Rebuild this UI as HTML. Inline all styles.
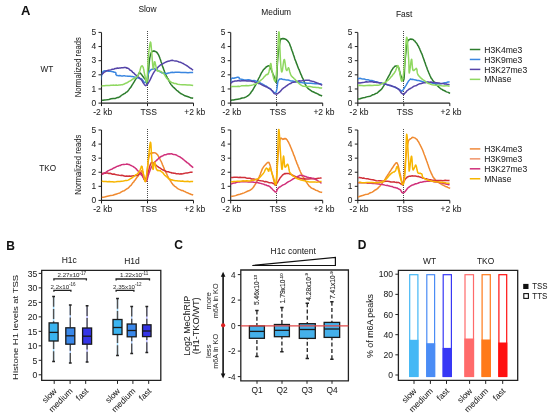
<!DOCTYPE html>
<html><head><meta charset="utf-8"><style>
html,body{margin:0;padding:0;background:#fff;width:550px;height:418px;overflow:hidden}
svg{display:block;filter:blur(0.3px)}
text{font-family:"Liberation Sans",sans-serif;stroke:#2a2a2a;stroke-width:0.04px}
</style></head><body>
<svg width="550" height="418" viewBox="0 0 550 418" font-family="Liberation Sans, sans-serif">
<rect width="550" height="418" fill="#fff"/>
<text x="21.00" y="14.70" font-size="13" text-anchor="start" font-weight="bold" fill="#111" >A</text>
<text x="147.50" y="12.30" font-size="8.4" text-anchor="middle" font-weight="normal" fill="#222" >Slow</text>
<text x="276.20" y="14.50" font-size="8.4" text-anchor="middle" font-weight="normal" fill="#222" >Medium</text>
<text x="404.10" y="16.80" font-size="8.4" text-anchor="middle" font-weight="normal" fill="#222" >Fast</text>
<clipPath id="c00"><rect x="101.5" y="31.2" width="93" height="71.89999999999999"/></clipPath>
<path d="M101.5,32.4 V103.1 H193.5" fill="none" stroke="#222" stroke-width="1.1"/>
<path d="M98.5,103.10 H101.5" stroke="#222" stroke-width="1"/>
<text x="96.20" y="105.70" font-size="8.4" text-anchor="end" font-weight="normal" fill="#222" >0</text>
<path d="M98.5,88.96 H101.5" stroke="#222" stroke-width="1"/>
<text x="96.20" y="91.56" font-size="8.4" text-anchor="end" font-weight="normal" fill="#222" >1</text>
<path d="M98.5,74.82 H101.5" stroke="#222" stroke-width="1"/>
<text x="96.20" y="77.42" font-size="8.4" text-anchor="end" font-weight="normal" fill="#222" >2</text>
<path d="M98.5,60.68 H101.5" stroke="#222" stroke-width="1"/>
<text x="96.20" y="63.28" font-size="8.4" text-anchor="end" font-weight="normal" fill="#222" >3</text>
<path d="M98.5,46.54 H101.5" stroke="#222" stroke-width="1"/>
<text x="96.20" y="49.14" font-size="8.4" text-anchor="end" font-weight="normal" fill="#222" >4</text>
<path d="M98.5,32.40 H101.5" stroke="#222" stroke-width="1"/>
<text x="96.20" y="35.00" font-size="8.4" text-anchor="end" font-weight="normal" fill="#222" >5</text>
<path d="M101.50,103.1 V106.1" stroke="#222" stroke-width="1"/>
<text x="102.70" y="114.50" font-size="8.5" text-anchor="middle" font-weight="normal" fill="#222" >-2 kb</text>
<path d="M147.50,103.1 V106.1" stroke="#222" stroke-width="1"/>
<text x="148.70" y="114.50" font-size="8.5" text-anchor="middle" font-weight="normal" fill="#222" >TSS</text>
<path d="M193.50,103.1 V106.1" stroke="#222" stroke-width="1"/>
<text x="194.70" y="114.50" font-size="8.5" text-anchor="middle" font-weight="normal" fill="#222" >+2 kb</text>
<path d="M147.5,31 V103.1" stroke="#4a4a4a" stroke-width="1" stroke-dasharray="1,1"/>
<text transform="translate(80.8,67.25) rotate(-90)" x="0" y="0" font-size="8.8" text-anchor="middle" fill="#222" textLength="60" lengthAdjust="spacingAndGlyphs">Normalized reads</text>
<clipPath id="c01"><rect x="230.7" y="31.2" width="93" height="71.89999999999999"/></clipPath>
<path d="M230.7,32.4 V103.1 H322.7" fill="none" stroke="#222" stroke-width="1.1"/>
<path d="M227.7,103.10 H230.7" stroke="#222" stroke-width="1"/>
<text x="225.40" y="105.70" font-size="8.4" text-anchor="end" font-weight="normal" fill="#222" >0</text>
<path d="M227.7,88.96 H230.7" stroke="#222" stroke-width="1"/>
<text x="225.40" y="91.56" font-size="8.4" text-anchor="end" font-weight="normal" fill="#222" >1</text>
<path d="M227.7,74.82 H230.7" stroke="#222" stroke-width="1"/>
<text x="225.40" y="77.42" font-size="8.4" text-anchor="end" font-weight="normal" fill="#222" >2</text>
<path d="M227.7,60.68 H230.7" stroke="#222" stroke-width="1"/>
<text x="225.40" y="63.28" font-size="8.4" text-anchor="end" font-weight="normal" fill="#222" >3</text>
<path d="M227.7,46.54 H230.7" stroke="#222" stroke-width="1"/>
<text x="225.40" y="49.14" font-size="8.4" text-anchor="end" font-weight="normal" fill="#222" >4</text>
<path d="M227.7,32.40 H230.7" stroke="#222" stroke-width="1"/>
<text x="225.40" y="35.00" font-size="8.4" text-anchor="end" font-weight="normal" fill="#222" >5</text>
<path d="M230.70,103.1 V106.1" stroke="#222" stroke-width="1"/>
<text x="231.90" y="114.50" font-size="8.5" text-anchor="middle" font-weight="normal" fill="#222" >-2 kb</text>
<path d="M276.70,103.1 V106.1" stroke="#222" stroke-width="1"/>
<text x="277.90" y="114.50" font-size="8.5" text-anchor="middle" font-weight="normal" fill="#222" >TSS</text>
<path d="M322.70,103.1 V106.1" stroke="#222" stroke-width="1"/>
<text x="323.90" y="114.50" font-size="8.5" text-anchor="middle" font-weight="normal" fill="#222" >+2 kb</text>
<path d="M276.5,31 V103.1" stroke="#4a4a4a" stroke-width="1" stroke-dasharray="1,1"/>
<clipPath id="c02"><rect x="357.8" y="31.2" width="93" height="71.89999999999999"/></clipPath>
<path d="M357.8,32.4 V103.1 H449.8" fill="none" stroke="#222" stroke-width="1.1"/>
<path d="M354.8,103.10 H357.8" stroke="#222" stroke-width="1"/>
<text x="352.50" y="105.70" font-size="8.4" text-anchor="end" font-weight="normal" fill="#222" >0</text>
<path d="M354.8,88.96 H357.8" stroke="#222" stroke-width="1"/>
<text x="352.50" y="91.56" font-size="8.4" text-anchor="end" font-weight="normal" fill="#222" >1</text>
<path d="M354.8,74.82 H357.8" stroke="#222" stroke-width="1"/>
<text x="352.50" y="77.42" font-size="8.4" text-anchor="end" font-weight="normal" fill="#222" >2</text>
<path d="M354.8,60.68 H357.8" stroke="#222" stroke-width="1"/>
<text x="352.50" y="63.28" font-size="8.4" text-anchor="end" font-weight="normal" fill="#222" >3</text>
<path d="M354.8,46.54 H357.8" stroke="#222" stroke-width="1"/>
<text x="352.50" y="49.14" font-size="8.4" text-anchor="end" font-weight="normal" fill="#222" >4</text>
<path d="M354.8,32.40 H357.8" stroke="#222" stroke-width="1"/>
<text x="352.50" y="35.00" font-size="8.4" text-anchor="end" font-weight="normal" fill="#222" >5</text>
<path d="M357.80,103.1 V106.1" stroke="#222" stroke-width="1"/>
<text x="359.00" y="114.50" font-size="8.5" text-anchor="middle" font-weight="normal" fill="#222" >-2 kb</text>
<path d="M403.80,103.1 V106.1" stroke="#222" stroke-width="1"/>
<text x="405.00" y="114.50" font-size="8.5" text-anchor="middle" font-weight="normal" fill="#222" >TSS</text>
<path d="M449.80,103.1 V106.1" stroke="#222" stroke-width="1"/>
<text x="451.00" y="114.50" font-size="8.5" text-anchor="middle" font-weight="normal" fill="#222" >+2 kb</text>
<path d="M403.5,31 V103.1" stroke="#4a4a4a" stroke-width="1" stroke-dasharray="1,1"/>
<clipPath id="c10"><rect x="101.5" y="128.8" width="93" height="71.60000000000001"/></clipPath>
<path d="M101.5,130.0 V200.4 H193.5" fill="none" stroke="#222" stroke-width="1.1"/>
<path d="M98.5,200.40 H101.5" stroke="#222" stroke-width="1"/>
<text x="96.20" y="203.00" font-size="8.4" text-anchor="end" font-weight="normal" fill="#222" >0</text>
<path d="M98.5,186.32 H101.5" stroke="#222" stroke-width="1"/>
<text x="96.20" y="188.92" font-size="8.4" text-anchor="end" font-weight="normal" fill="#222" >1</text>
<path d="M98.5,172.24 H101.5" stroke="#222" stroke-width="1"/>
<text x="96.20" y="174.84" font-size="8.4" text-anchor="end" font-weight="normal" fill="#222" >2</text>
<path d="M98.5,158.16 H101.5" stroke="#222" stroke-width="1"/>
<text x="96.20" y="160.76" font-size="8.4" text-anchor="end" font-weight="normal" fill="#222" >3</text>
<path d="M98.5,144.08 H101.5" stroke="#222" stroke-width="1"/>
<text x="96.20" y="146.68" font-size="8.4" text-anchor="end" font-weight="normal" fill="#222" >4</text>
<path d="M98.5,130.00 H101.5" stroke="#222" stroke-width="1"/>
<text x="96.20" y="132.60" font-size="8.4" text-anchor="end" font-weight="normal" fill="#222" >5</text>
<path d="M101.50,200.4 V203.4" stroke="#222" stroke-width="1"/>
<text x="102.70" y="211.80" font-size="8.5" text-anchor="middle" font-weight="normal" fill="#222" >-2 kb</text>
<path d="M147.50,200.4 V203.4" stroke="#222" stroke-width="1"/>
<text x="148.70" y="211.80" font-size="8.5" text-anchor="middle" font-weight="normal" fill="#222" >TSS</text>
<path d="M193.50,200.4 V203.4" stroke="#222" stroke-width="1"/>
<text x="194.70" y="211.80" font-size="8.5" text-anchor="middle" font-weight="normal" fill="#222" >+2 kb</text>
<path d="M147.5,129 V200.4" stroke="#4a4a4a" stroke-width="1" stroke-dasharray="1,1"/>
<text transform="translate(80.8,164.70) rotate(-90)" x="0" y="0" font-size="8.8" text-anchor="middle" fill="#222" textLength="60" lengthAdjust="spacingAndGlyphs">Normalized reads</text>
<clipPath id="c11"><rect x="230.7" y="128.8" width="93" height="71.60000000000001"/></clipPath>
<path d="M230.7,130.0 V200.4 H322.7" fill="none" stroke="#222" stroke-width="1.1"/>
<path d="M227.7,200.40 H230.7" stroke="#222" stroke-width="1"/>
<text x="225.40" y="203.00" font-size="8.4" text-anchor="end" font-weight="normal" fill="#222" >0</text>
<path d="M227.7,186.32 H230.7" stroke="#222" stroke-width="1"/>
<text x="225.40" y="188.92" font-size="8.4" text-anchor="end" font-weight="normal" fill="#222" >1</text>
<path d="M227.7,172.24 H230.7" stroke="#222" stroke-width="1"/>
<text x="225.40" y="174.84" font-size="8.4" text-anchor="end" font-weight="normal" fill="#222" >2</text>
<path d="M227.7,158.16 H230.7" stroke="#222" stroke-width="1"/>
<text x="225.40" y="160.76" font-size="8.4" text-anchor="end" font-weight="normal" fill="#222" >3</text>
<path d="M227.7,144.08 H230.7" stroke="#222" stroke-width="1"/>
<text x="225.40" y="146.68" font-size="8.4" text-anchor="end" font-weight="normal" fill="#222" >4</text>
<path d="M227.7,130.00 H230.7" stroke="#222" stroke-width="1"/>
<text x="225.40" y="132.60" font-size="8.4" text-anchor="end" font-weight="normal" fill="#222" >5</text>
<path d="M230.70,200.4 V203.4" stroke="#222" stroke-width="1"/>
<text x="231.90" y="211.80" font-size="8.5" text-anchor="middle" font-weight="normal" fill="#222" >-2 kb</text>
<path d="M276.70,200.4 V203.4" stroke="#222" stroke-width="1"/>
<text x="277.90" y="211.80" font-size="8.5" text-anchor="middle" font-weight="normal" fill="#222" >TSS</text>
<path d="M322.70,200.4 V203.4" stroke="#222" stroke-width="1"/>
<text x="323.90" y="211.80" font-size="8.5" text-anchor="middle" font-weight="normal" fill="#222" >+2 kb</text>
<path d="M276.5,129 V200.4" stroke="#4a4a4a" stroke-width="1" stroke-dasharray="1,1"/>
<clipPath id="c12"><rect x="357.8" y="128.8" width="93" height="71.60000000000001"/></clipPath>
<path d="M357.8,130.0 V200.4 H449.8" fill="none" stroke="#222" stroke-width="1.1"/>
<path d="M354.8,200.40 H357.8" stroke="#222" stroke-width="1"/>
<text x="352.50" y="203.00" font-size="8.4" text-anchor="end" font-weight="normal" fill="#222" >0</text>
<path d="M354.8,186.32 H357.8" stroke="#222" stroke-width="1"/>
<text x="352.50" y="188.92" font-size="8.4" text-anchor="end" font-weight="normal" fill="#222" >1</text>
<path d="M354.8,172.24 H357.8" stroke="#222" stroke-width="1"/>
<text x="352.50" y="174.84" font-size="8.4" text-anchor="end" font-weight="normal" fill="#222" >2</text>
<path d="M354.8,158.16 H357.8" stroke="#222" stroke-width="1"/>
<text x="352.50" y="160.76" font-size="8.4" text-anchor="end" font-weight="normal" fill="#222" >3</text>
<path d="M354.8,144.08 H357.8" stroke="#222" stroke-width="1"/>
<text x="352.50" y="146.68" font-size="8.4" text-anchor="end" font-weight="normal" fill="#222" >4</text>
<path d="M354.8,130.00 H357.8" stroke="#222" stroke-width="1"/>
<text x="352.50" y="132.60" font-size="8.4" text-anchor="end" font-weight="normal" fill="#222" >5</text>
<path d="M357.80,200.4 V203.4" stroke="#222" stroke-width="1"/>
<text x="359.00" y="211.80" font-size="8.5" text-anchor="middle" font-weight="normal" fill="#222" >-2 kb</text>
<path d="M403.80,200.4 V203.4" stroke="#222" stroke-width="1"/>
<text x="405.00" y="211.80" font-size="8.5" text-anchor="middle" font-weight="normal" fill="#222" >TSS</text>
<path d="M449.80,200.4 V203.4" stroke="#222" stroke-width="1"/>
<text x="451.00" y="211.80" font-size="8.5" text-anchor="middle" font-weight="normal" fill="#222" >+2 kb</text>
<path d="M403.5,129 V200.4" stroke="#4a4a4a" stroke-width="1" stroke-dasharray="1,1"/>
<text x="40.50" y="71.90" font-size="8.2" text-anchor="start" font-weight="normal" fill="#222" >WT</text>
<text x="39.30" y="170.50" font-size="8.2" text-anchor="start" font-weight="normal" fill="#222" >TKO</text>
<path d="M101.73,100.26 L102.95,100.23 L104.63,99.90 L106.65,99.74 L108.84,99.44 L111.09,98.82 L113.23,98.43 L115.14,98.49 L116.66,97.84 L117.80,97.48 L118.69,97.51 L119.40,96.89 L119.98,96.70 L120.50,96.12 L121.01,95.79 L121.57,95.10 L122.25,94.86 L123.02,94.50 L123.79,93.89 L124.57,93.56 L125.37,93.05 L126.18,92.19 L127.02,91.87 L127.89,90.98 L128.78,89.84 L129.75,88.44 L130.81,87.31 L131.91,85.37 L133.03,83.67 L134.11,81.93 L135.13,80.13 L136.04,78.70 L136.81,77.20 L137.40,76.42 L137.87,75.39 L138.23,74.93 L138.52,74.32 L138.77,73.47 L139.01,73.15 L139.28,72.95 L139.60,73.20 L139.97,72.95 L140.34,73.25 L140.72,73.43 L141.10,73.97 L141.48,74.41 L141.85,74.92 L142.22,75.54 L142.59,75.99 L142.95,76.57 L143.32,76.91 L143.69,77.49 L144.05,77.92 L144.40,78.45 L144.75,78.74 L145.08,78.92 L145.39,79.67 L145.68,80.27 L145.95,81.02 L146.20,81.71 L146.45,82.58 L146.69,82.92 L146.93,83.46 L147.18,83.06 L147.44,82.00 L147.71,80.10 L147.98,77.90 L148.26,74.80 L148.54,70.86 L148.82,67.64 L149.10,64.05 L149.39,60.93 L149.68,58.68 L149.96,57.19 L150.24,55.84 L150.52,54.32 L150.80,53.72 L151.09,52.74 L151.40,52.52 L151.74,51.86 L152.10,51.70 L152.52,51.42 L152.98,51.03 L153.48,51.27 L153.99,51.03 L154.50,51.08 L154.99,51.55 L155.44,51.48 L155.84,51.73 L156.17,51.97 L156.46,52.22 L156.72,52.16 L156.96,52.29 L157.18,52.93 L157.40,52.93 L157.63,53.58 L157.89,53.94 L158.16,54.14 L158.42,54.68 L158.69,55.26 L158.96,55.92 L159.24,56.54 L159.52,57.23 L159.82,58.02 L160.13,59.00 L160.45,59.70 L160.79,60.68 L161.14,61.92 L161.49,62.82 L161.85,64.00 L162.21,65.48 L162.57,66.35 L162.93,67.39 L163.27,68.09 L163.62,69.23 L163.97,70.23 L164.31,70.85 L164.66,72.02 L165.01,72.88 L165.37,73.42 L165.72,74.52 L166.08,75.22 L166.44,76.08 L166.81,76.65 L167.17,77.53 L167.54,78.25 L167.92,78.58 L168.31,79.31 L168.71,80.33 L169.08,81.18 L169.41,81.50 L169.73,82.28 L170.06,83.03 L170.45,83.59 L170.92,84.34 L171.51,85.09 L172.25,85.96 L173.16,87.01 L174.21,87.90 L175.38,89.03 L176.63,90.36 L177.94,91.10 L179.28,92.43 L180.63,93.49 L181.96,94.14 L183.36,94.85 L184.91,95.83 L186.54,96.19 L188.16,96.73 L189.71,97.37 L191.10,97.94 L192.28,98.02 L193.15,98.43" fill="none" stroke="#2d7d2d" stroke-width="1.5" stroke-linejoin="round" clip-path="url(#c00)"/>
<path d="M100.80,80.16 L100.90,79.81 L101.04,78.78 L101.19,77.99 L101.37,76.56 L101.57,75.55 L101.79,74.66 L102.03,73.86 L102.29,72.94 L102.53,72.29 L102.73,71.81 L102.93,71.67 L103.15,71.23 L103.45,71.34 L103.85,71.22 L104.38,70.80 L105.09,70.80 L106.06,71.07 L107.30,71.07 L108.71,71.31 L110.21,71.28 L111.70,71.41 L113.08,71.75 L114.27,72.28 L115.16,72.29 L115.70,72.63 L115.94,73.02 L115.98,73.41 L115.91,73.80 L115.85,74.46 L115.88,74.44 L116.12,74.69 L116.66,75.42 L117.52,75.58 L118.61,75.76 L119.87,75.57 L121.25,75.89 L122.69,75.93 L124.12,75.63 L125.48,75.96 L126.73,76.12 L127.89,76.16 L129.05,76.24 L130.18,76.28 L131.29,76.47 L132.37,76.59 L133.40,76.69 L134.38,77.12 L135.31,77.15 L136.18,77.57 L136.99,77.34 L137.75,77.91 L138.47,77.96 L139.16,78.24 L139.82,78.42 L140.46,78.66 L141.10,78.78 L141.71,78.94 L142.28,79.94 L142.83,80.38 L143.36,81.18 L143.87,81.99 L144.38,82.37 L144.88,82.47 L145.39,82.51 L145.89,81.64 L146.37,80.37 L146.84,78.87 L147.30,77.55 L147.77,75.68 L148.26,74.24 L148.77,72.63 L149.31,71.51 L149.87,70.90 L150.44,70.41 L151.02,69.58 L151.63,69.51 L152.25,69.30 L152.91,69.07 L153.61,69.00 L154.34,68.61 L155.15,69.10 L156.02,69.58 L156.94,69.68 L157.89,70.38 L158.83,70.99 L159.76,71.71 L160.63,72.17 L161.43,72.58 L162.17,72.99 L162.86,72.81 L163.51,73.00 L164.14,73.16 L164.74,73.24 L165.32,73.27 L165.90,73.75 L166.47,73.70 L167.01,73.28 L167.50,73.40 L167.95,73.18 L168.41,73.03 L168.87,72.89 L169.37,72.89 L169.93,72.73 L170.57,72.52 L171.24,72.37 L171.90,72.40 L172.57,72.26 L173.30,72.45 L174.12,72.52 L175.07,72.35 L176.18,72.19 L177.48,72.24 L179.12,72.35 L181.15,72.48 L183.40,72.60 L185.74,72.42 L188.03,72.67 L190.13,72.61 L191.88,72.54 L193.15,72.53" fill="none" stroke="#3a86e0" stroke-width="1.5" stroke-linejoin="round" clip-path="url(#c00)"/>
<path d="M101.73,74.45 L102.08,74.27 L102.52,73.75 L103.03,73.43 L103.62,72.80 L104.28,72.17 L104.99,71.81 L105.76,71.41 L106.58,70.70 L107.48,70.52 L108.48,70.20 L109.55,70.12 L110.67,69.86 L111.82,69.31 L112.97,69.32 L114.09,69.03 L115.16,68.55 L116.21,68.44 L117.28,68.07 L118.34,68.23 L119.40,67.98 L120.42,67.95 L121.40,67.79 L122.33,67.66 L123.19,67.67 L123.95,67.59 L124.61,67.37 L125.20,67.65 L125.76,67.43 L126.32,67.63 L126.89,68.15 L127.52,68.07 L128.22,68.47 L129.02,68.98 L129.88,70.00 L130.79,70.37 L131.72,71.08 L132.66,72.31 L133.58,72.76 L134.48,73.91 L135.31,74.54 L136.10,75.28 L136.86,75.98 L137.59,76.41 L138.31,77.12 L139.01,77.35 L139.71,78.33 L140.40,78.84 L141.10,79.60 L141.77,80.12 L142.42,81.47 L143.05,82.68 L143.67,83.33 L144.32,84.41 L144.99,85.21 L145.72,85.64 L146.51,85.15 L147.38,84.30 L148.31,82.96 L149.30,81.37 L150.32,79.41 L151.35,77.10 L152.38,75.00 L153.38,73.14 L154.34,71.58 L155.24,70.38 L156.08,69.10 L156.89,68.32 L157.70,67.65 L158.53,66.54 L159.42,65.94 L160.37,64.92 L161.43,64.48 L162.61,63.81 L163.88,63.09 L165.22,62.36 L166.61,61.76 L168.03,61.34 L169.46,61.06 L170.88,60.41 L172.25,60.26 L173.61,60.62 L174.98,60.89 L176.34,60.99 L177.71,61.37 L179.07,62.00 L180.42,62.28 L181.76,62.91 L183.07,63.48 L184.44,64.38 L185.88,65.09 L187.35,65.99 L188.79,67.19 L190.14,68.27 L191.36,68.81 L192.38,69.74 L193.15,70.12" fill="none" stroke="#5544a8" stroke-width="1.5" stroke-linejoin="round" clip-path="url(#c00)"/>
<path d="M100.80,86.20 L101.70,86.01 L102.91,85.77 L104.35,85.66 L105.95,85.46 L107.63,85.58 L109.31,85.42 L110.91,85.21 L112.37,85.21 L113.71,85.12 L115.02,85.31 L116.32,84.97 L117.59,85.37 L118.84,85.06 L120.06,85.02 L121.26,84.78 L122.44,84.70 L123.59,84.33 L124.73,83.75 L125.83,83.20 L126.92,82.76 L127.98,82.24 L129.02,81.40 L130.03,80.95 L131.02,80.47 L132.01,79.65 L133.00,78.98 L133.97,78.43 L134.92,78.10 L135.82,77.47 L136.66,76.96 L137.43,76.18 L138.11,75.07 L138.69,74.08 L139.17,72.97 L139.57,71.68 L139.92,70.65 L140.23,69.49 L140.51,68.39 L140.80,67.15 L141.10,66.80 L141.40,66.13 L141.69,65.96 L141.96,66.05 L142.22,65.81 L142.46,66.01 L142.70,66.68 L142.93,66.80 L143.15,67.29 L143.36,67.99 L143.54,68.78 L143.72,69.30 L143.88,70.42 L144.05,71.47 L144.23,72.51 L144.42,73.37 L144.64,74.50 L144.89,75.79 L145.17,76.91 L145.47,78.52 L145.77,79.78 L146.08,81.10 L146.37,82.12 L146.64,82.07 L146.88,81.92 L147.08,80.47 L147.25,77.77 L147.40,75.28 L147.53,71.69 L147.67,68.39 L147.82,64.91 L147.99,61.45 L148.19,58.87 L148.43,56.29 L148.70,53.70 L149.00,50.77 L149.31,48.50 L149.61,46.35 L149.91,44.34 L150.18,42.92 L150.43,41.99 L150.63,42.18 L150.81,42.77 L150.98,44.12 L151.13,45.66 L151.27,47.41 L151.41,49.15 L151.57,51.30 L151.73,53.07 L151.91,54.72 L152.09,57.31 L152.28,59.60 L152.47,61.77 L152.66,64.46 L152.85,66.06 L153.04,67.68 L153.22,68.78 L153.41,68.82 L153.58,68.16 L153.76,67.07 L153.94,65.55 L154.12,64.00 L154.30,62.62 L154.50,61.66 L154.72,61.69 L154.95,62.09 L155.19,62.83 L155.45,64.12 L155.72,65.31 L155.99,66.71 L156.26,68.14 L156.52,69.55 L156.77,69.94 L156.99,70.63 L157.19,70.74 L157.38,71.10 L157.56,70.87 L157.77,70.80 L158.00,70.77 L158.29,70.83 L158.63,71.05 L159.04,71.00 L159.50,71.38 L160.00,71.16 L160.53,71.41 L161.10,71.55 L161.69,71.86 L162.30,72.59 L162.93,73.08 L163.57,73.49 L164.24,74.35 L164.93,75.43 L165.64,76.63 L166.38,77.71 L167.14,78.68 L167.91,79.52 L168.71,80.06 L169.46,80.82 L170.15,81.28 L170.82,81.95 L171.53,82.41 L172.33,82.62 L173.27,83.00 L174.41,83.61 L175.80,83.55 L177.59,84.23 L179.82,84.53 L182.32,84.78 L184.92,84.69 L187.46,84.94 L189.79,85.10 L191.74,85.24 L193.15,85.51" fill="none" stroke="#8fd860" stroke-width="1.5" stroke-linejoin="round" clip-path="url(#c00)"/>
<path d="M230.73,100.48 L231.94,100.05 L233.60,100.05 L235.58,99.53 L237.75,99.20 L239.98,98.82 L242.13,97.96 L244.06,97.79 L245.66,97.11 L246.91,96.39 L247.94,95.76 L248.82,95.06 L249.59,94.18 L250.31,93.50 L251.04,92.26 L251.83,91.33 L252.75,90.01 L253.79,88.19 L254.93,86.16 L256.11,84.03 L257.31,81.55 L258.48,78.75 L259.60,76.78 L260.62,74.67 L261.51,72.74 L262.27,71.62 L262.92,70.53 L263.48,69.64 L263.99,69.22 L264.45,68.88 L264.89,68.12 L265.34,67.98 L265.81,67.46 L266.29,66.76 L266.78,66.75 L267.26,66.30 L267.72,66.21 L268.16,65.94 L268.59,65.86 L268.98,65.68 L269.35,66.03 L269.67,66.33 L269.95,66.65 L270.19,66.90 L270.41,67.61 L270.63,68.09 L270.86,68.56 L271.11,69.23 L271.40,69.95 L271.74,70.79 L272.11,71.64 L272.50,72.75 L272.90,73.82 L273.30,74.71 L273.69,75.59 L274.05,76.57 L274.39,77.16 L274.69,78.07 L274.98,79.24 L275.26,80.13 L275.52,81.00 L275.77,82.10 L276.00,82.39 L276.23,82.08 L276.44,81.29 L276.63,79.79 L276.79,77.52 L276.94,74.50 L277.07,71.19 L277.21,67.92 L277.36,64.85 L277.53,61.38 L277.75,58.76 L278.00,56.08 L278.29,53.50 L278.60,50.94 L278.92,48.60 L279.25,46.19 L279.58,44.05 L279.89,42.31 L280.17,40.89 L280.42,40.02 L280.65,39.13 L280.85,38.73 L281.06,38.78 L281.27,38.74 L281.49,38.94 L281.75,38.65 L282.04,38.77 L282.37,38.67 L282.73,38.44 L283.12,38.90 L283.53,38.55 L283.95,38.56 L284.37,38.86 L284.79,38.85 L285.21,39.26 L285.62,39.32 L286.05,39.44 L286.48,39.67 L286.91,40.31 L287.34,40.44 L287.76,41.10 L288.17,41.42 L288.57,42.21 L288.94,42.53 L289.30,43.23 L289.65,44.03 L290.00,45.15 L290.33,45.95 L290.67,46.73 L291.02,47.55 L291.37,48.80 L291.71,49.91 L292.05,50.70 L292.38,51.42 L292.71,52.47 L293.06,53.58 L293.43,54.74 L293.82,55.84 L294.26,57.07 L294.73,58.67 L295.25,60.17 L295.80,61.26 L296.36,63.12 L296.94,64.37 L297.52,66.00 L298.09,67.50 L298.64,68.89 L299.17,69.76 L299.69,71.18 L300.20,72.60 L300.71,74.01 L301.23,74.82 L301.77,76.15 L302.33,77.67 L302.93,78.55 L303.52,79.97 L304.05,81.25 L304.58,82.74 L305.15,84.17 L305.79,85.09 L306.54,86.62 L307.44,87.81 L308.53,88.99 L309.94,89.94 L311.69,91.22 L313.65,92.01 L315.69,93.05 L317.69,93.89 L319.51,94.99 L321.04,95.55 L322.15,95.98" fill="none" stroke="#2d7d2d" stroke-width="1.5" stroke-linejoin="round" clip-path="url(#c01)"/>
<path d="M230.73,82.87 L230.76,82.79 L230.78,82.24 L230.80,81.69 L230.83,80.88 L230.89,80.28 L230.97,79.50 L231.11,79.25 L231.29,78.51 L231.53,78.47 L231.82,78.44 L232.14,78.29 L232.50,77.94 L232.89,77.98 L233.31,78.26 L233.74,78.13 L234.18,78.19 L234.66,78.09 L235.19,77.76 L235.75,77.86 L236.33,77.66 L236.91,77.37 L237.47,77.33 L237.99,77.17 L238.47,77.39 L238.82,77.80 L239.03,77.59 L239.16,78.08 L239.29,78.14 L239.50,78.44 L239.87,79.03 L240.46,79.12 L241.37,79.27 L242.65,79.51 L244.29,79.91 L246.17,80.01 L248.19,79.85 L250.26,80.11 L252.28,80.66 L254.13,80.53 L255.73,81.02 L257.10,81.35 L258.35,82.02 L259.50,82.47 L260.56,83.15 L261.55,83.62 L262.50,84.03 L263.41,84.60 L264.31,85.07 L265.17,85.92 L265.96,86.02 L266.69,86.42 L267.38,87.33 L268.05,87.37 L268.72,88.15 L269.39,88.18 L270.10,88.80 L270.84,89.23 L271.62,90.24 L272.41,90.90 L273.19,91.64 L273.94,92.31 L274.66,92.77 L275.31,92.60 L275.88,92.42 L276.34,91.49 L276.68,89.97 L276.95,88.63 L277.19,86.62 L277.42,84.80 L277.69,82.69 L278.04,81.34 L278.49,80.22 L279.03,79.69 L279.58,78.97 L280.18,78.92 L280.84,78.96 L281.56,78.84 L282.36,79.23 L283.26,79.48 L284.28,79.45 L285.43,79.71 L286.72,79.92 L288.13,80.01 L289.60,80.41 L291.13,81.08 L292.67,81.08 L294.19,81.44 L295.66,81.52 L297.07,81.80 L298.47,81.97 L299.86,82.53 L301.25,82.59 L302.67,82.82 L304.13,83.02 L305.64,82.96 L307.22,83.25 L308.98,83.18 L310.96,83.24 L313.04,83.61 L315.13,83.69 L317.13,83.81 L318.94,83.65 L320.46,83.87 L321.59,83.74" fill="none" stroke="#3a86e0" stroke-width="1.5" stroke-linejoin="round" clip-path="url(#c01)"/>
<path d="M230.54,83.29 L230.88,83.08 L231.27,82.52 L231.72,82.54 L232.26,81.85 L232.90,81.49 L233.65,81.51 L234.54,81.05 L235.58,80.99 L236.85,80.95 L238.38,80.58 L240.08,80.90 L241.88,80.66 L243.69,80.77 L245.45,80.77 L247.06,81.03 L248.46,81.11 L249.63,80.97 L250.67,80.98 L251.60,81.21 L252.45,81.41 L253.26,81.41 L254.06,81.64 L254.87,82.17 L255.73,82.39 L256.63,82.82 L257.51,83.15 L258.40,83.45 L259.28,83.58 L260.16,83.87 L261.04,84.36 L261.93,84.85 L262.82,85.29 L263.73,85.70 L264.66,86.01 L265.60,86.66 L266.54,86.79 L267.47,87.31 L268.38,87.98 L269.26,88.44 L270.10,88.72 L270.88,89.35 L271.62,90.45 L272.33,90.94 L273.01,91.90 L273.70,92.93 L274.39,93.61 L275.11,93.89 L275.88,94.01 L276.69,93.92 L277.52,93.77 L278.38,92.96 L279.25,92.42 L280.13,91.44 L281.02,90.64 L281.90,89.32 L282.78,88.66 L283.67,87.91 L284.57,87.43 L285.49,86.69 L286.40,85.87 L287.30,85.46 L288.19,84.62 L289.05,84.17 L289.87,83.66 L290.63,83.53 L291.31,83.01 L291.95,82.65 L292.58,82.31 L293.23,82.29 L293.94,82.20 L294.74,82.03 L295.66,81.94 L296.72,81.65 L297.91,81.12 L299.19,80.82 L300.52,80.89 L301.87,80.70 L303.22,80.39 L304.51,80.44 L305.73,80.26 L306.88,80.16 L308.00,80.19 L309.09,80.25 L310.16,80.74 L311.22,81.09 L312.26,81.35 L313.29,81.41 L314.31,81.81 L315.38,82.31 L316.51,82.71 L317.65,83.12 L318.77,83.55 L319.82,84.13 L320.76,84.43 L321.55,84.83 L322.15,85.37" fill="none" stroke="#5544a8" stroke-width="1.5" stroke-linejoin="round" clip-path="url(#c01)"/>
<path d="M230.73,87.01 L231.54,86.74 L232.59,86.61 L233.84,86.50 L235.24,86.47 L236.75,86.54 L238.30,86.26 L239.86,86.39 L241.37,85.85 L242.92,85.79 L244.59,85.76 L246.34,85.56 L248.11,85.63 L249.83,85.44 L251.47,85.28 L252.95,84.88 L254.24,84.30 L255.30,84.24 L256.18,83.87 L256.93,83.44 L257.57,82.92 L258.17,82.67 L258.74,82.28 L259.35,81.35 L260.02,81.07 L260.77,80.28 L261.54,79.62 L262.32,79.02 L263.10,78.24 L263.86,77.28 L264.57,76.30 L265.23,75.98 L265.81,75.04 L266.30,74.74 L266.73,74.72 L267.10,74.32 L267.43,74.19 L267.73,74.39 L268.02,74.16 L268.31,73.47 L268.60,72.91 L268.91,71.91 L269.20,70.54 L269.49,69.10 L269.76,67.90 L270.03,65.96 L270.28,64.78 L270.52,63.87 L270.75,63.42 L270.95,63.81 L271.12,64.51 L271.26,65.48 L271.40,66.55 L271.55,67.95 L271.71,68.91 L271.91,70.36 L272.15,71.89 L272.45,72.72 L272.79,74.39 L273.16,76.19 L273.56,77.74 L273.96,79.35 L274.35,80.22 L274.72,80.92 L275.06,81.21 L275.37,80.08 L275.66,79.24 L275.93,77.22 L276.20,75.58 L276.46,73.04 L276.70,70.37 L276.95,67.24 L277.19,64.16 L277.42,60.73 L277.64,55.60 L277.84,50.20 L278.05,45.01 L278.25,39.91 L278.45,35.22 L278.65,32.73 L278.87,31.38 L279.09,32.32 L279.31,35.08 L279.54,39.47 L279.77,44.86 L280.00,49.92 L280.22,55.07 L280.43,59.60 L280.64,62.89 L280.83,65.32 L281.00,67.54 L281.16,68.69 L281.31,69.96 L281.47,71.21 L281.64,71.77 L281.83,71.98 L282.04,71.53 L282.27,70.89 L282.53,69.73 L282.80,67.55 L283.08,65.46 L283.37,63.09 L283.66,61.05 L283.95,59.84 L284.22,59.47 L284.49,59.82 L284.75,60.76 L285.01,62.26 L285.27,64.14 L285.53,66.02 L285.79,67.85 L286.06,69.44 L286.33,70.01 L286.60,70.50 L286.88,70.53 L287.17,70.07 L287.45,69.15 L287.74,68.93 L288.02,68.34 L288.30,67.71 L288.57,67.81 L288.82,68.19 L289.06,68.77 L289.28,70.07 L289.51,70.74 L289.74,71.97 L290.00,72.58 L290.29,73.44 L290.62,74.64 L290.97,75.23 L291.33,75.88 L291.71,76.22 L292.12,76.61 L292.56,77.20 L293.06,77.36 L293.62,78.14 L294.26,78.72 L294.98,79.31 L295.77,80.39 L296.63,81.17 L297.54,82.20 L298.49,83.04 L299.46,83.86 L300.45,84.62 L301.44,85.33 L302.42,85.94 L303.40,86.20 L304.40,86.36 L305.42,86.46 L306.48,86.27 L307.59,86.68 L308.77,86.42 L310.02,86.49 L311.45,86.86 L313.09,87.17 L314.84,87.18 L316.62,87.54 L318.33,87.54 L319.89,88.06 L321.19,87.94 L322.15,88.06" fill="none" stroke="#8fd860" stroke-width="1.5" stroke-linejoin="round" clip-path="url(#c01)"/>
<path d="M357.80,98.91 L358.74,98.89 L360.01,98.71 L361.52,98.21 L363.19,97.85 L364.94,97.57 L366.70,96.88 L368.39,96.59 L369.93,96.27 L371.36,95.67 L372.81,94.72 L374.23,94.49 L375.64,93.57 L377.01,93.11 L378.32,91.94 L379.57,90.90 L380.75,89.96 L381.85,88.83 L382.88,87.10 L383.87,85.67 L384.79,83.86 L385.67,81.94 L386.50,80.22 L387.28,78.74 L388.02,77.30 L388.71,76.04 L389.32,75.01 L389.88,74.03 L390.40,72.86 L390.89,71.69 L391.36,70.84 L391.83,70.10 L392.31,69.48 L392.80,68.55 L393.27,67.88 L393.73,67.43 L394.17,66.91 L394.61,66.36 L395.04,66.28 L395.45,66.22 L395.86,65.89 L396.26,65.95 L396.64,66.04 L397.02,66.18 L397.39,66.44 L397.75,66.51 L398.09,67.03 L398.43,67.25 L398.75,68.21 L399.05,68.70 L399.32,69.68 L399.58,70.94 L399.82,71.77 L400.07,72.86 L400.32,74.27 L400.60,75.16 L400.90,75.74 L401.23,76.55 L401.61,77.66 L402.00,78.44 L402.40,79.71 L402.79,80.04 L403.16,80.43 L403.50,80.41 L403.79,79.87 L404.01,78.61 L404.18,76.93 L404.32,74.73 L404.43,72.10 L404.54,69.24 L404.66,66.94 L404.81,64.13 L405.00,61.37 L405.23,59.14 L405.47,56.72 L405.74,54.19 L406.02,51.12 L406.31,48.59 L406.62,46.53 L406.93,44.50 L407.24,43.12 L407.56,41.89 L407.88,40.79 L408.21,40.26 L408.56,39.99 L408.91,39.93 L409.27,39.47 L409.65,39.47 L410.04,39.17 L410.44,39.31 L410.87,38.92 L411.30,39.37 L411.75,39.22 L412.21,39.37 L412.67,39.30 L413.12,39.61 L413.58,40.02 L414.04,40.56 L414.51,40.82 L414.98,41.18 L415.45,42.06 L415.92,42.49 L416.39,43.06 L416.85,43.57 L417.31,44.32 L417.76,45.34 L418.20,45.71 L418.62,46.70 L419.05,47.57 L419.48,48.33 L419.92,49.49 L420.38,50.59 L420.86,51.69 L421.36,52.86 L421.88,53.94 L422.41,55.31 L422.96,56.99 L423.51,58.46 L424.06,59.94 L424.61,61.79 L425.15,62.93 L425.69,64.70 L426.22,66.25 L426.76,67.35 L427.29,69.24 L427.83,70.44 L428.37,71.76 L428.90,73.07 L429.44,74.22 L429.96,75.56 L430.45,76.51 L430.92,77.67 L431.41,78.53 L431.91,78.98 L432.46,79.97 L433.06,80.80 L433.73,81.57 L434.48,82.52 L435.28,83.46 L436.12,84.62 L437.01,85.37 L437.94,86.17 L438.91,87.10 L439.90,88.03 L440.91,88.85 L442.03,89.41 L443.30,90.33 L444.63,90.75 L445.98,91.59 L447.27,92.12 L448.44,92.39 L449.42,93.10 L450.15,93.25" fill="none" stroke="#2d7d2d" stroke-width="1.5" stroke-linejoin="round" clip-path="url(#c02)"/>
<path d="M357.80,79.33 L357.89,79.26 L357.94,79.14 L357.99,78.87 L358.09,78.50 L358.27,78.70 L358.56,78.61 L359.02,78.36 L359.66,78.41 L360.53,78.35 L361.57,78.81 L362.77,78.90 L364.10,78.90 L365.50,79.47 L366.97,79.84 L368.45,79.84 L369.93,80.49 L371.45,80.58 L373.08,80.83 L374.78,81.53 L376.51,81.79 L378.24,82.44 L379.92,82.82 L381.51,83.01 L382.99,83.61 L384.34,84.13 L385.62,84.27 L386.84,84.62 L388.00,85.08 L389.12,85.18 L390.20,85.52 L391.26,85.89 L392.31,86.37 L393.37,86.46 L394.42,86.85 L395.45,87.65 L396.45,88.02 L397.40,88.35 L398.28,89.08 L399.08,89.45 L399.78,89.59 L400.32,90.12 L400.71,90.40 L401.00,90.71 L401.22,90.78 L401.44,90.83 L401.71,91.20 L402.07,91.05 L402.57,90.43 L403.25,89.68 L404.07,88.53 L404.97,86.93 L405.92,85.57 L406.87,83.91 L407.78,82.34 L408.60,80.95 L409.29,80.27 L409.79,79.58 L410.10,79.43 L410.31,78.97 L410.49,79.03 L410.71,78.98 L411.03,79.20 L411.53,79.42 L412.28,79.30 L413.28,79.41 L414.46,79.84 L415.80,79.97 L417.26,80.44 L418.80,80.61 L420.40,80.92 L422.03,81.46 L423.66,81.94 L425.33,82.21 L427.10,82.36 L428.95,82.64 L430.83,82.81 L432.71,83.21 L434.56,83.47 L436.34,83.95 L438.02,83.59 L439.68,83.93 L441.38,83.50 L443.07,83.19 L444.70,82.77 L446.22,82.76 L447.58,82.04 L448.72,81.95 L449.59,81.74" fill="none" stroke="#3a86e0" stroke-width="1.5" stroke-linejoin="round" clip-path="url(#c02)"/>
<path d="M357.80,82.89 L358.69,82.78 L359.88,82.98 L361.30,82.67 L362.87,82.42 L364.53,82.29 L366.22,81.70 L367.85,81.88 L369.37,81.86 L370.82,81.63 L372.29,81.83 L373.76,82.23 L375.23,82.08 L376.68,82.50 L378.09,82.42 L379.45,82.90 L380.75,82.92 L381.97,83.27 L383.13,83.44 L384.23,83.94 L385.31,84.14 L386.36,84.30 L387.40,84.70 L388.45,84.89 L389.51,85.43 L390.62,85.52 L391.76,86.05 L392.90,86.47 L394.04,86.79 L395.15,87.07 L396.21,87.61 L397.20,88.35 L398.10,88.68 L398.90,89.60 L399.61,90.27 L400.25,91.37 L400.85,92.19 L401.41,92.94 L401.97,93.45 L402.54,93.78 L403.13,94.26 L403.72,94.28 L404.27,94.06 L404.80,93.20 L405.34,92.54 L405.90,92.24 L406.51,91.39 L407.20,90.55 L407.99,90.06 L408.87,89.19 L409.83,88.78 L410.86,88.23 L411.95,87.58 L413.08,86.75 L414.23,86.15 L415.40,85.84 L416.57,85.47 L417.75,84.62 L418.95,84.08 L420.18,83.66 L421.43,83.59 L422.70,83.01 L424.00,82.71 L425.31,82.72 L426.64,82.35 L428.00,82.08 L429.39,82.30 L430.81,82.02 L432.24,82.28 L433.68,82.64 L435.13,82.55 L436.58,82.65 L438.02,83.05 L439.54,83.11 L441.17,83.63 L442.85,83.41 L444.52,83.98 L446.09,83.99 L447.51,84.40 L448.70,84.38 L449.59,84.61" fill="none" stroke="#5544a8" stroke-width="1.5" stroke-linejoin="round" clip-path="url(#c02)"/>
<path d="M357.80,85.38 L359.32,85.32 L361.42,85.45 L363.93,85.65 L366.67,85.43 L369.47,85.37 L372.15,85.43 L374.54,85.20 L376.46,85.18 L377.92,85.14 L379.11,84.93 L380.08,84.73 L380.90,84.31 L381.61,83.88 L382.28,83.55 L382.97,83.35 L383.73,82.89 L384.53,82.65 L385.29,82.06 L386.02,81.83 L386.73,81.25 L387.43,80.73 L388.12,80.18 L388.81,79.44 L389.51,78.71 L390.24,77.89 L390.99,76.92 L391.74,76.38 L392.49,75.29 L393.21,74.14 L393.90,73.62 L394.54,72.54 L395.11,71.72 L395.61,70.71 L396.05,69.49 L396.43,68.82 L396.78,67.35 L397.11,66.55 L397.43,66.23 L397.75,65.51 L398.10,65.87 L398.46,66.66 L398.84,67.92 L399.22,70.05 L399.59,71.81 L399.95,73.69 L400.29,75.88 L400.61,77.31 L400.90,78.85 L401.14,79.77 L401.35,80.49 L401.53,80.61 L401.69,81.28 L401.84,81.24 L402.01,81.23 L402.18,80.79 L402.39,80.14 L402.62,79.12 L402.86,78.16 L403.11,76.44 L403.37,75.18 L403.63,72.78 L403.90,71.08 L404.17,68.31 L404.44,65.66 L404.71,62.75 L404.99,58.54 L405.28,54.07 L405.57,49.26 L405.85,44.92 L406.13,40.91 L406.41,38.51 L406.68,37.15 L406.95,37.72 L407.22,38.94 L407.49,41.68 L407.76,45.37 L408.01,49.21 L408.25,52.68 L408.46,56.20 L408.64,58.81 L408.77,61.05 L408.86,63.49 L408.91,65.92 L408.95,67.84 L408.99,69.91 L409.05,71.67 L409.14,72.45 L409.29,72.95 L409.50,72.30 L409.76,70.87 L410.05,68.89 L410.36,66.48 L410.68,64.11 L410.99,61.67 L411.28,59.92 L411.53,59.26 L411.73,59.39 L411.89,60.49 L412.02,62.19 L412.14,64.05 L412.28,65.80 L412.44,67.59 L412.65,69.03 L412.93,70.00 L413.29,70.52 L413.74,70.36 L414.23,70.38 L414.75,69.77 L415.28,69.16 L415.77,68.79 L416.21,68.36 L416.57,68.79 L416.81,69.17 L416.95,69.54 L417.03,70.42 L417.09,70.99 L417.16,71.83 L417.29,72.70 L417.51,73.53 L417.87,74.51 L418.36,75.26 L418.94,76.05 L419.59,76.49 L420.31,77.57 L421.09,78.17 L421.91,78.84 L422.77,79.59 L423.66,80.21 L424.54,80.72 L425.40,81.43 L426.28,82.15 L427.22,82.76 L428.26,83.40 L429.41,83.54 L430.73,84.33 L432.24,84.68 L434.11,84.97 L436.37,85.37 L438.87,85.18 L441.45,85.68 L443.97,85.89 L446.27,85.63 L448.19,85.97 L449.59,86.25" fill="none" stroke="#8fd860" stroke-width="1.5" stroke-linejoin="round" clip-path="url(#c02)"/>
<path d="M101.73,197.28 L102.91,197.33 L104.49,197.05 L106.39,196.46 L108.48,195.91 L110.66,195.49 L112.82,195.30 L114.85,194.56 L116.66,193.94 L118.29,193.39 L119.87,192.97 L121.40,191.93 L122.88,191.07 L124.29,190.75 L125.64,189.61 L126.93,188.79 L128.13,188.20 L129.25,186.91 L130.30,185.78 L131.27,185.10 L132.17,183.67 L133.02,182.55 L133.82,181.83 L134.58,180.46 L135.31,179.86 L136.00,178.72 L136.62,177.87 L137.20,177.04 L137.73,176.45 L138.23,175.75 L138.70,175.01 L139.16,174.45 L139.60,173.78 L140.02,173.48 L140.40,172.92 L140.74,172.24 L141.06,171.74 L141.38,170.95 L141.70,170.79 L142.04,170.72 L142.40,170.91 L142.80,172.06 L143.21,173.37 L143.63,175.06 L144.06,176.66 L144.49,178.06 L144.92,179.43 L145.35,179.80 L145.76,179.87 L146.17,178.05 L146.58,175.58 L146.98,172.74 L147.38,168.80 L147.78,165.50 L148.17,161.73 L148.56,158.95 L148.93,156.52 L149.29,155.52 L149.61,154.32 L149.92,153.70 L150.23,153.55 L150.55,153.39 L150.90,153.18 L151.29,153.09 L151.73,153.21 L152.24,152.77 L152.81,153.07 L153.42,152.74 L154.06,152.66 L154.71,152.83 L155.36,152.91 L155.99,153.31 L156.58,153.85 L157.14,154.34 L157.69,155.01 L158.23,155.81 L158.76,156.82 L159.28,157.95 L159.81,158.82 L160.34,160.06 L160.87,161.00 L161.42,161.95 L161.96,163.19 L162.51,164.81 L163.06,165.95 L163.61,167.23 L164.16,168.61 L164.71,170.05 L165.26,171.02 L165.80,172.17 L166.33,173.30 L166.85,174.23 L167.37,175.58 L167.91,176.61 L168.46,177.66 L169.04,178.65 L169.64,179.65 L170.26,180.75 L170.89,181.45 L171.52,182.79 L172.18,183.27 L172.87,184.54 L173.60,185.04 L174.39,186.15 L175.24,186.63 L176.16,187.23 L177.16,188.09 L178.21,188.83 L179.30,189.38 L180.42,189.91 L181.55,190.47 L182.69,190.50 L183.82,191.17 L185.01,191.56 L186.32,192.43 L187.67,192.82 L189.02,193.50 L190.30,194.02 L191.46,194.56 L192.42,194.77 L193.15,195.15" fill="none" stroke="#f08a30" stroke-width="1.5" stroke-linejoin="round" clip-path="url(#c10)"/>
<path d="M101.54,173.90 L101.90,173.60 L102.33,173.89 L102.84,173.35 L103.43,173.21 L104.10,173.45 L104.85,173.07 L105.68,173.21 L106.58,172.90 L107.60,173.07 L108.75,173.46 L109.99,173.30 L111.30,173.75 L112.66,174.19 L114.02,174.06 L115.36,174.53 L116.66,174.75 L117.92,174.89 L119.18,175.19 L120.43,175.38 L121.69,175.27 L122.95,175.57 L124.21,175.92 L125.47,176.27 L126.73,175.98 L128.03,176.19 L129.39,175.94 L130.76,176.24 L132.13,175.95 L133.45,175.87 L134.69,175.80 L135.82,175.37 L136.81,175.49 L137.62,175.25 L138.29,174.89 L138.84,174.15 L139.31,173.67 L139.74,173.23 L140.16,173.31 L140.60,172.97 L141.10,173.08 L141.63,173.69 L142.16,174.74 L142.68,175.78 L143.21,177.09 L143.74,178.51 L144.28,179.45 L144.82,179.69 L145.39,179.45 L145.99,178.99 L146.63,177.34 L147.29,175.27 L147.95,172.91 L148.60,170.85 L149.21,168.37 L149.76,166.36 L150.24,164.91 L150.60,164.09 L150.86,163.51 L151.05,162.89 L151.21,162.85 L151.37,162.52 L151.58,162.37 L151.88,162.49 L152.29,162.55 L152.83,162.76 L153.44,163.09 L154.13,163.62 L154.86,164.21 L155.64,165.04 L156.44,165.40 L157.26,166.35 L158.07,166.69 L158.90,167.52 L159.74,167.70 L160.60,168.49 L161.49,169.05 L162.39,169.74 L163.32,170.02 L164.28,170.53 L165.26,170.90 L166.28,171.49 L167.36,171.82 L168.47,171.82 L169.60,172.17 L170.73,172.41 L171.84,172.99 L172.91,172.93 L173.93,173.17 L174.86,173.20 L175.71,173.56 L176.51,173.79 L177.30,173.85 L178.11,173.61 L178.97,173.89 L179.93,173.92 L181.02,173.65 L182.33,173.89 L183.87,173.43 L185.54,173.12 L187.25,172.96 L188.90,172.61 L190.41,172.26 L191.67,172.19 L192.59,171.84" fill="none" stroke="#d0303a" stroke-width="1.5" stroke-linejoin="round" clip-path="url(#c10)"/>
<path d="M101.54,174.55 L102.15,174.08 L102.95,173.88 L103.90,173.26 L104.97,172.77 L106.10,172.06 L107.25,171.26 L108.39,170.67 L109.47,170.16 L110.53,169.58 L111.61,169.38 L112.71,168.66 L113.82,167.91 L114.92,167.58 L116.02,167.01 L117.10,166.25 L118.15,166.17 L119.18,165.53 L120.20,165.57 L121.21,164.82 L122.20,164.62 L123.18,164.37 L124.14,164.51 L125.07,164.38 L125.99,164.22 L126.87,164.04 L127.73,164.27 L128.57,164.57 L129.39,164.46 L130.19,165.16 L130.98,165.44 L131.75,165.85 L132.51,166.14 L133.27,166.58 L134.01,167.32 L134.74,167.58 L135.45,168.27 L136.15,168.87 L136.83,169.59 L137.48,170.58 L138.11,170.88 L138.71,171.83 L139.29,172.29 L139.84,173.15 L140.37,173.72 L140.89,174.31 L141.40,175.02 L141.90,175.25 L142.40,176.00 L142.90,176.78 L143.40,177.67 L143.89,178.71 L144.37,179.70 L144.84,180.43 L145.29,181.14 L145.73,181.39 L146.13,181.27 L146.51,181.03 L146.84,180.52 L147.15,179.68 L147.45,178.41 L147.75,177.25 L148.05,176.18 L148.38,174.82 L148.75,174.07 L149.13,172.60 L149.51,171.84 L149.91,170.65 L150.32,169.38 L150.76,168.45 L151.23,167.31 L151.73,166.51 L152.29,165.49 L152.91,164.41 L153.58,163.64 L154.30,162.76 L155.04,161.55 L155.81,161.07 L156.58,160.31 L157.34,159.67 L158.07,158.90 L158.79,158.11 L159.49,157.48 L160.19,157.20 L160.88,156.53 L161.59,156.39 L162.32,155.93 L163.07,155.71 L163.86,155.15 L164.68,154.82 L165.53,154.84 L166.41,154.47 L167.31,154.11 L168.22,154.03 L169.13,153.84 L170.04,153.89 L170.95,153.83 L171.85,153.80 L172.76,154.28 L173.67,154.44 L174.59,154.62 L175.50,154.69 L176.41,154.99 L177.32,155.65 L178.22,156.13 L179.11,156.53 L179.99,156.85 L180.86,157.69 L181.73,158.23 L182.61,158.82 L183.49,159.62 L184.39,160.26 L185.31,161.08 L186.31,161.92 L187.40,162.93 L188.54,163.44 L189.67,164.62 L190.75,165.72 L191.72,166.41 L192.54,167.06 L193.15,167.71" fill="none" stroke="#d0307a" stroke-width="1.5" stroke-linejoin="round" clip-path="url(#c10)"/>
<path d="M101.54,180.92 L102.36,181.37 L103.41,181.38 L104.65,181.49 L106.06,181.48 L107.57,181.75 L109.16,181.59 L110.77,181.83 L112.37,181.69 L114.03,181.97 L115.84,181.84 L117.75,181.58 L119.69,181.59 L121.61,181.23 L123.46,181.08 L125.19,180.60 L126.73,180.59 L128.11,180.08 L129.38,179.52 L130.56,178.55 L131.65,178.23 L132.66,177.12 L133.61,176.70 L134.49,175.99 L135.31,175.15 L136.07,174.77 L136.74,174.46 L137.33,173.80 L137.86,173.13 L138.34,172.87 L138.78,172.12 L139.20,171.85 L139.60,171.03 L139.98,170.20 L140.31,169.84 L140.60,168.53 L140.86,167.77 L141.09,167.26 L141.32,166.32 L141.53,166.15 L141.75,166.22 L141.95,166.33 L142.13,166.70 L142.29,167.62 L142.44,168.53 L142.60,169.39 L142.76,170.46 L142.94,171.37 L143.15,172.44 L143.39,173.91 L143.65,175.39 L143.94,176.53 L144.23,178.25 L144.53,179.73 L144.82,181.18 L145.11,181.58 L145.39,181.64 L145.65,181.41 L145.89,180.12 L146.13,179.12 L146.37,177.12 L146.61,175.33 L146.87,173.07 L147.14,170.40 L147.44,168.24 L147.78,165.13 L148.15,161.39 L148.54,157.27 L148.95,153.48 L149.35,149.52 L149.73,146.05 L150.07,143.83 L150.37,142.20 L150.62,142.35 L150.82,143.29 L151.00,145.37 L151.15,148.15 L151.29,150.76 L151.43,153.41 L151.57,156.02 L151.73,158.28 L151.90,159.87 L152.06,162.01 L152.22,163.43 L152.38,165.56 L152.54,166.99 L152.70,168.36 L152.87,169.04 L153.04,169.37 L153.21,169.26 L153.38,168.68 L153.56,167.13 L153.74,165.70 L153.92,164.53 L154.11,163.25 L154.32,162.29 L154.53,161.92 L154.74,162.05 L154.95,162.95 L155.16,163.92 L155.38,165.12 L155.62,166.39 L155.90,167.47 L156.21,168.60 L156.58,169.46 L157.00,170.03 L157.46,170.12 L157.96,170.66 L158.49,170.50 L159.06,170.61 L159.64,170.75 L160.25,170.60 L160.87,171.28 L161.53,171.85 L162.25,172.18 L163.00,172.88 L163.76,174.04 L164.53,174.92 L165.28,175.68 L165.99,176.21 L166.66,176.92 L167.22,177.17 L167.70,177.67 L168.12,178.15 L168.53,178.66 L168.98,178.64 L169.50,179.34 L170.14,179.16 L170.95,179.90 L171.92,179.79 L173.01,180.31 L174.21,180.52 L175.50,180.78 L176.84,180.71 L178.22,180.98 L179.63,180.92 L181.02,181.32 L182.52,181.08 L184.19,181.57 L185.95,181.51 L187.72,181.31 L189.40,181.81 L190.92,181.55 L192.20,181.46 L193.15,181.60" fill="none" stroke="#f7b500" stroke-width="1.5" stroke-linejoin="round" clip-path="url(#c10)"/>
<path d="M230.73,196.59 L231.94,196.36 L233.60,196.08 L235.58,195.64 L237.75,194.82 L239.98,194.26 L242.13,193.57 L244.06,192.86 L245.66,192.11 L246.93,191.53 L248.01,191.04 L248.95,190.83 L249.77,190.24 L250.53,190.05 L251.25,189.31 L251.98,188.80 L252.75,187.99 L253.54,187.08 L254.32,185.75 L255.08,184.59 L255.81,183.53 L256.53,181.97 L257.22,180.86 L257.89,179.68 L258.53,178.12 L259.13,177.13 L259.69,175.62 L260.22,174.44 L260.72,172.89 L261.22,171.69 L261.73,170.40 L262.26,168.99 L262.82,168.11 L263.43,167.17 L264.09,166.17 L264.78,165.38 L265.47,164.70 L266.15,163.93 L266.78,163.36 L267.36,162.59 L267.86,162.60 L268.26,162.45 L268.59,162.63 L268.86,162.30 L269.09,162.67 L269.30,163.48 L269.52,163.73 L269.76,164.58 L270.04,165.34 L270.37,166.30 L270.71,167.63 L271.06,169.19 L271.42,171.00 L271.79,172.42 L272.16,174.15 L272.53,175.39 L272.90,176.88 L273.26,178.16 L273.63,179.80 L274.01,181.48 L274.39,182.57 L274.76,184.20 L275.12,184.74 L275.46,184.61 L275.79,183.94 L276.09,181.93 L276.38,179.20 L276.65,175.99 L276.91,171.96 L277.16,167.89 L277.41,163.46 L277.67,159.68 L277.93,156.66 L278.20,153.97 L278.45,151.43 L278.70,148.70 L278.96,146.57 L279.22,144.36 L279.49,142.32 L279.77,140.97 L280.08,139.34 L280.40,138.75 L280.75,138.12 L281.11,137.95 L281.48,138.31 L281.86,138.59 L282.24,138.94 L282.61,139.05 L282.97,139.39 L283.32,139.25 L283.68,138.82 L284.03,138.62 L284.38,138.98 L284.72,138.61 L285.07,138.43 L285.42,138.50 L285.77,138.91 L286.11,138.86 L286.43,139.20 L286.75,139.65 L287.07,139.85 L287.41,140.45 L287.76,141.14 L288.15,141.71 L288.57,142.41 L289.03,143.35 L289.53,144.28 L290.07,145.66 L290.62,146.97 L291.18,148.31 L291.75,149.66 L292.31,151.18 L292.86,152.28 L293.39,153.90 L293.93,155.45 L294.47,156.42 L295.00,157.99 L295.54,159.82 L296.08,160.81 L296.61,162.60 L297.15,163.85 L297.69,164.93 L298.22,166.55 L298.76,167.56 L299.29,169.27 L299.83,170.27 L300.37,171.80 L300.90,172.96 L301.44,173.70 L301.97,174.88 L302.48,175.73 L302.98,176.96 L303.49,177.52 L304.01,178.37 L304.55,179.24 L305.12,180.47 L305.73,181.03 L306.35,181.96 L306.96,182.92 L307.58,183.87 L308.23,184.69 L308.93,185.82 L309.69,186.35 L310.55,187.21 L311.51,188.15 L312.68,188.55 L314.08,189.21 L315.61,190.21 L317.19,190.59 L318.73,191.45 L320.12,191.93 L321.30,192.14 L322.15,192.45" fill="none" stroke="#f08a30" stroke-width="1.5" stroke-linejoin="round" clip-path="url(#c11)"/>
<path d="M230.54,177.23 L231.41,177.61 L232.58,177.38 L233.97,177.31 L235.51,177.22 L237.11,177.23 L238.67,177.56 L240.12,177.20 L241.37,177.45 L242.38,177.53 L243.23,177.52 L243.98,177.56 L244.69,177.57 L245.43,177.55 L246.26,177.98 L247.25,178.17 L248.46,178.20 L249.93,178.31 L251.64,178.97 L253.50,178.99 L255.45,179.38 L257.43,180.02 L259.36,180.52 L261.18,180.78 L262.82,180.89 L264.33,181.63 L265.81,181.51 L267.23,181.89 L268.58,182.48 L269.83,182.64 L270.98,182.87 L272.01,182.77 L272.90,183.38 L273.59,183.43 L274.09,183.57 L274.45,184.31 L274.71,184.71 L274.92,184.53 L275.14,184.88 L275.41,185.10 L275.79,184.62 L276.25,184.16 L276.74,183.72 L277.26,182.71 L277.80,182.05 L278.35,180.99 L278.90,180.01 L279.45,179.04 L279.99,178.02 L280.51,177.59 L281.02,176.88 L281.53,176.20 L282.04,175.65 L282.57,174.98 L283.11,174.45 L283.68,174.40 L284.28,173.81 L284.91,173.46 L285.58,173.75 L286.27,173.44 L286.98,173.52 L287.70,173.40 L288.43,173.40 L289.16,173.63 L289.87,174.05 L290.57,174.00 L291.24,174.62 L291.91,174.69 L292.58,175.39 L293.27,175.46 L294.01,176.01 L294.80,176.24 L295.66,176.60 L296.54,177.11 L297.40,177.36 L298.28,177.78 L299.22,177.93 L300.26,178.26 L301.41,178.51 L302.73,178.99 L304.24,178.71 L306.11,178.92 L308.37,179.09 L310.87,178.85 L313.45,178.56 L315.97,178.77 L318.27,178.18 L320.19,178.07 L321.59,177.93" fill="none" stroke="#d0303a" stroke-width="1.5" stroke-linejoin="round" clip-path="url(#c11)"/>
<path d="M230.54,183.92 L231.36,183.95 L232.41,183.40 L233.65,183.08 L235.06,182.99 L236.57,182.29 L238.16,181.96 L239.77,182.04 L241.37,181.60 L243.01,181.76 L244.78,181.54 L246.62,181.80 L248.51,181.99 L250.41,181.90 L252.27,181.96 L254.05,182.31 L255.73,182.56 L257.34,182.50 L258.94,182.91 L260.51,183.35 L262.03,183.81 L263.47,184.11 L264.81,184.73 L266.03,184.94 L267.11,185.65 L268.02,185.74 L268.76,186.04 L269.38,186.32 L269.90,186.71 L270.36,187.12 L270.81,187.83 L271.27,187.98 L271.78,188.40 L272.33,189.15 L272.88,189.73 L273.42,190.26 L273.96,190.62 L274.48,191.23 L274.97,191.77 L275.44,191.95 L275.88,192.09 L276.23,191.89 L276.46,191.59 L276.64,191.38 L276.81,190.73 L277.03,190.01 L277.35,189.33 L277.82,188.70 L278.49,188.06 L279.40,187.04 L280.52,186.71 L281.79,185.73 L283.16,184.86 L284.57,184.35 L285.98,183.44 L287.33,182.46 L288.57,181.57 L289.74,181.07 L290.92,180.36 L292.08,179.62 L293.22,178.79 L294.31,178.38 L295.34,177.63 L296.29,177.35 L297.15,176.79 L297.89,176.30 L298.52,176.26 L299.07,175.83 L299.56,175.46 L300.02,175.42 L300.47,175.22 L300.93,175.35 L301.44,175.58 L301.95,175.63 L302.41,175.58 L302.86,175.49 L303.32,175.72 L303.81,175.92 L304.36,176.24 L304.99,176.61 L305.73,176.53 L306.61,176.98 L307.61,177.17 L308.69,177.51 L309.84,177.83 L311.00,177.87 L312.16,178.26 L313.27,178.43 L314.31,178.90 L315.34,179.45 L316.39,179.72 L317.46,180.57 L318.49,181.20 L319.45,181.66 L320.31,182.26 L321.04,183.03 L321.59,183.13" fill="none" stroke="#d0307a" stroke-width="1.5" stroke-linejoin="round" clip-path="url(#c11)"/>
<path d="M230.54,181.66 L231.36,181.65 L232.41,181.71 L233.65,181.57 L235.06,181.46 L236.57,181.35 L238.16,181.19 L239.77,181.21 L241.37,181.13 L243.04,180.76 L244.88,180.92 L246.81,180.70 L248.78,180.93 L250.72,180.76 L252.57,180.16 L254.26,180.15 L255.73,179.59 L256.99,178.96 L258.10,178.71 L259.07,178.02 L259.95,177.19 L260.73,176.31 L261.46,175.67 L262.15,174.66 L262.82,173.97 L263.45,173.17 L264.01,172.41 L264.50,171.50 L264.95,170.34 L265.36,169.48 L265.74,168.95 L266.10,168.45 L266.46,168.02 L266.80,168.27 L267.12,168.54 L267.40,168.93 L267.67,169.43 L267.92,170.11 L268.15,170.40 L268.38,171.09 L268.60,170.90 L268.80,171.11 L268.96,170.51 L269.10,169.71 L269.23,168.99 L269.37,168.57 L269.55,168.05 L269.76,167.98 L270.04,167.90 L270.40,168.94 L270.82,169.74 L271.30,171.04 L271.80,172.66 L272.30,174.13 L272.79,175.57 L273.25,176.89 L273.64,178.15 L273.98,179.06 L274.30,180.40 L274.59,181.93 L274.85,182.73 L275.10,183.68 L275.34,184.74 L275.56,184.81 L275.79,184.72 L276.00,184.20 L276.19,183.49 L276.36,182.23 L276.53,181.06 L276.69,178.90 L276.85,177.13 L277.01,174.18 L277.19,171.14 L277.36,166.62 L277.54,161.08 L277.71,154.30 L277.89,147.57 L278.07,140.91 L278.26,135.54 L278.47,131.35 L278.68,128.96 L278.91,129.45 L279.17,131.68 L279.44,134.88 L279.72,139.33 L279.99,144.60 L280.26,149.45 L280.51,153.31 L280.73,156.85 L280.93,159.43 L281.11,161.47 L281.27,163.93 L281.42,165.63 L281.57,167.49 L281.72,168.58 L281.87,169.34 L282.04,169.40 L282.22,169.06 L282.40,167.57 L282.59,165.24 L282.78,162.68 L282.97,160.25 L283.16,158.16 L283.35,156.93 L283.53,156.09 L283.70,156.44 L283.85,157.39 L284.00,158.63 L284.14,160.61 L284.30,162.84 L284.48,164.61 L284.68,166.14 L284.93,166.95 L285.22,167.17 L285.57,167.04 L285.94,166.67 L286.33,165.82 L286.73,164.99 L287.12,164.61 L287.49,164.19 L287.82,164.44 L288.10,165.13 L288.34,165.79 L288.55,166.81 L288.75,167.91 L288.97,169.26 L289.22,170.52 L289.51,171.64 L289.87,172.70 L290.30,172.99 L290.77,173.72 L291.29,174.21 L291.84,175.16 L292.42,175.49 L293.01,175.96 L293.63,176.48 L294.26,176.52 L294.88,177.41 L295.49,177.53 L296.10,178.06 L296.75,178.30 L297.44,178.82 L298.19,178.93 L299.02,179.24 L299.95,179.54 L300.99,180.10 L302.12,180.28 L303.34,180.45 L304.62,180.85 L305.94,181.23 L307.30,181.38 L308.66,181.70 L310.02,181.98 L311.48,181.98 L313.08,182.11 L314.76,181.87 L316.44,182.13 L318.03,182.12 L319.48,181.87 L320.69,181.59 L321.59,181.60" fill="none" stroke="#f7b500" stroke-width="1.5" stroke-linejoin="round" clip-path="url(#c11)"/>
<path d="M357.80,196.96 L358.76,196.73 L360.07,196.30 L361.64,195.77 L363.36,195.30 L365.15,194.57 L366.90,194.26 L368.52,193.91 L369.93,192.95 L371.14,192.59 L372.27,192.13 L373.33,191.43 L374.33,190.65 L375.28,189.95 L376.20,189.52 L377.08,188.91 L377.95,188.16 L378.78,187.15 L379.55,186.53 L380.28,185.74 L380.98,184.68 L381.67,183.99 L382.34,182.91 L383.03,181.89 L383.73,180.83 L384.44,180.21 L385.15,179.20 L385.85,177.79 L386.55,176.72 L387.25,175.74 L387.96,174.58 L388.69,173.72 L389.44,172.33 L390.24,171.31 L391.09,169.96 L391.98,168.46 L392.87,167.32 L393.73,165.81 L394.53,164.70 L395.25,163.86 L395.86,163.11 L396.33,162.67 L396.70,162.96 L396.99,162.96 L397.22,163.13 L397.41,163.52 L397.60,164.10 L397.80,164.54 L398.04,165.08 L398.30,166.08 L398.55,167.17 L398.80,167.81 L399.05,169.38 L399.30,170.26 L399.57,171.78 L399.85,172.86 L400.15,173.77 L400.47,175.11 L400.82,177.19 L401.18,179.14 L401.56,180.89 L401.94,182.34 L402.32,183.40 L402.69,183.89 L403.06,183.37 L403.43,181.70 L403.80,178.71 L404.17,175.53 L404.54,171.67 L404.91,167.37 L405.27,163.08 L405.61,159.54 L405.93,156.79 L406.24,154.23 L406.52,152.22 L406.80,150.02 L407.06,148.18 L407.32,146.21 L407.57,144.88 L407.82,143.63 L408.08,142.56 L408.32,141.61 L408.54,140.62 L408.75,140.28 L408.97,140.22 L409.19,139.58 L409.44,139.40 L409.71,139.28 L410.04,139.29 L410.41,138.76 L410.81,138.60 L411.25,138.31 L411.71,137.98 L412.18,137.33 L412.67,137.46 L413.16,137.43 L413.66,137.41 L414.15,137.65 L414.66,137.86 L415.19,138.08 L415.72,138.62 L416.25,138.94 L416.79,139.30 L417.33,140.03 L417.87,141.07 L418.41,141.59 L418.96,142.57 L419.50,143.76 L420.05,144.74 L420.61,145.93 L421.16,146.95 L421.71,148.19 L422.26,149.23 L422.81,150.59 L423.36,151.95 L423.91,153.58 L424.46,155.06 L425.00,156.33 L425.55,158.12 L426.10,159.35 L426.64,160.95 L427.18,162.24 L427.72,163.97 L428.26,165.33 L428.79,167.24 L429.33,168.43 L429.86,170.08 L430.40,171.22 L430.93,172.39 L431.45,173.77 L431.94,174.52 L432.42,175.59 L432.90,176.54 L433.41,177.56 L433.95,178.22 L434.55,178.67 L435.22,179.64 L435.97,180.63 L436.78,181.28 L437.64,181.70 L438.55,182.21 L439.48,182.89 L440.42,183.71 L441.37,183.99 L442.31,184.90 L443.31,185.14 L444.40,185.91 L445.54,186.46 L446.67,186.75 L447.75,187.37 L448.72,187.86 L449.54,188.04 L450.15,188.45" fill="none" stroke="#f08a30" stroke-width="1.5" stroke-linejoin="round" clip-path="url(#c12)"/>
<path d="M358.54,177.49 L358.88,177.70 L359.27,177.42 L359.72,177.42 L360.26,177.66 L360.90,177.80 L361.65,177.86 L362.54,178.21 L363.58,178.02 L364.81,178.39 L366.21,178.63 L367.77,178.79 L369.44,179.23 L371.17,179.54 L372.95,179.81 L374.72,180.30 L376.46,180.65 L378.23,180.87 L380.11,180.70 L382.04,180.97 L383.99,181.43 L385.89,181.17 L387.69,181.33 L389.35,181.46 L390.82,182.04 L392.09,181.92 L393.21,181.95 L394.20,181.84 L395.09,182.28 L395.90,182.38 L396.65,182.30 L397.38,182.52 L398.10,182.50 L398.80,182.61 L399.45,182.87 L400.06,183.31 L400.62,183.63 L401.14,184.10 L401.60,184.24 L402.02,184.43 L402.39,184.90 L402.67,184.77 L402.83,184.55 L402.93,184.01 L402.99,183.69 L403.05,183.30 L403.15,182.95 L403.32,182.21 L403.60,181.82 L403.97,181.28 L404.38,180.77 L404.83,179.81 L405.33,178.90 L405.89,178.39 L406.52,177.97 L407.21,177.04 L407.99,176.84 L408.87,176.28 L409.87,176.12 L410.96,176.15 L412.11,175.80 L413.27,175.95 L414.43,176.03 L415.54,175.99 L416.57,176.25 L417.49,176.42 L418.34,176.33 L419.14,176.81 L419.93,177.09 L420.74,177.32 L421.60,177.63 L422.57,177.92 L423.66,178.29 L424.87,178.55 L426.17,178.66 L427.54,179.17 L428.99,179.52 L430.48,179.71 L432.03,180.20 L433.61,180.14 L435.22,180.44 L436.98,180.55 L438.96,180.62 L441.04,180.42 L443.13,180.63 L445.13,180.32 L446.94,180.48 L448.46,180.40 L449.59,180.51" fill="none" stroke="#d0303a" stroke-width="1.5" stroke-linejoin="round" clip-path="url(#c12)"/>
<path d="M357.80,182.64 L358.67,182.76 L359.81,182.44 L361.17,182.86 L362.68,182.73 L364.31,182.84 L366.01,182.72 L367.71,183.25 L369.37,183.07 L371.07,183.24 L372.90,183.42 L374.80,183.56 L376.74,183.77 L378.64,183.96 L380.48,184.29 L382.19,184.41 L383.73,184.83 L385.09,185.14 L386.31,185.38 L387.42,185.34 L388.45,185.75 L389.43,186.03 L390.38,186.30 L391.33,186.42 L392.31,186.60 L393.33,187.17 L394.35,187.42 L395.37,187.57 L396.37,188.04 L397.33,188.06 L398.23,188.76 L399.05,189.18 L399.78,189.60 L400.37,189.65 L400.84,190.55 L401.21,191.27 L401.54,191.61 L401.85,192.44 L402.19,192.69 L402.61,192.96 L403.13,192.86 L403.75,192.66 L404.42,192.33 L405.13,191.38 L405.89,190.53 L406.68,189.61 L407.52,188.20 L408.39,187.66 L409.29,186.95 L410.25,186.24 L411.26,185.55 L412.32,184.99 L413.42,184.69 L414.53,184.25 L415.66,183.81 L416.77,183.65 L417.87,183.28 L418.96,182.73 L420.06,182.35 L421.16,182.18 L422.26,181.98 L423.36,181.69 L424.46,181.45 L425.55,181.40 L426.64,181.21 L427.68,180.99 L428.66,181.14 L429.62,181.13 L430.58,181.05 L431.59,181.09 L432.68,181.35 L433.88,181.70 L435.22,181.94 L436.84,181.99 L438.75,182.47 L440.82,182.65 L442.94,183.35 L445.00,183.71 L446.87,184.27 L448.44,184.64 L449.59,184.48" fill="none" stroke="#d0307a" stroke-width="1.5" stroke-linejoin="round" clip-path="url(#c12)"/>
<path d="M358.54,182.70 L360.00,182.31 L362.01,182.73 L364.42,182.77 L367.05,182.41 L369.73,182.46 L372.31,182.38 L374.60,182.73 L376.46,182.59 L377.87,182.63 L379.03,182.50 L379.97,182.23 L380.77,182.36 L381.48,182.01 L382.17,181.78 L382.90,181.51 L383.73,181.18 L384.65,180.34 L385.58,179.62 L386.53,178.65 L387.46,177.72 L388.38,176.50 L389.25,175.47 L390.07,174.64 L390.82,173.86 L391.51,173.45 L392.14,172.71 L392.73,172.41 L393.27,172.07 L393.78,172.00 L394.25,171.96 L394.69,171.52 L395.11,171.15 L395.49,170.74 L395.80,169.94 L396.08,168.85 L396.32,168.00 L396.56,167.44 L396.80,166.76 L397.06,166.70 L397.35,166.58 L397.67,167.32 L398.01,168.44 L398.35,169.46 L398.71,170.84 L399.07,172.68 L399.43,173.93 L399.79,175.73 L400.15,176.83 L400.51,178.20 L400.89,179.42 L401.27,180.84 L401.65,182.09 L402.02,183.18 L402.38,184.51 L402.73,184.61 L403.06,184.49 L403.37,184.40 L403.66,183.37 L403.94,182.23 L404.21,180.89 L404.47,178.95 L404.72,176.50 L404.96,173.93 L405.19,171.16 L405.40,167.25 L405.59,161.90 L405.77,156.08 L405.94,150.19 L406.11,144.26 L406.29,139.75 L406.47,136.12 L406.68,134.15 L406.91,134.78 L407.17,136.97 L407.44,140.21 L407.71,144.71 L407.98,149.58 L408.23,154.00 L408.45,158.15 L408.64,160.87 L408.77,163.48 L408.86,165.37 L408.91,167.14 L408.95,168.41 L408.99,169.81 L409.05,170.47 L409.14,171.11 L409.29,170.92 L409.50,170.07 L409.76,168.30 L410.05,165.82 L410.36,163.20 L410.68,160.64 L410.99,158.14 L411.28,156.69 L411.53,156.19 L411.73,156.53 L411.90,158.00 L412.05,159.56 L412.19,162.18 L412.33,164.40 L412.49,166.99 L412.69,168.55 L412.93,169.70 L413.22,169.97 L413.57,169.32 L413.94,168.59 L414.33,168.00 L414.73,167.01 L415.12,165.95 L415.49,165.17 L415.82,165.06 L416.11,165.84 L416.35,166.52 L416.58,167.34 L416.79,168.62 L417.02,169.86 L417.26,170.58 L417.54,171.90 L417.87,172.72 L418.27,173.10 L418.73,173.36 L419.22,173.27 L419.74,173.41 L420.25,173.21 L420.75,173.61 L421.21,173.69 L421.60,173.83 L421.90,174.06 L422.08,174.62 L422.21,175.29 L422.33,176.14 L422.48,176.52 L422.72,177.31 L423.10,177.53 L423.66,178.05 L424.36,178.48 L425.14,178.91 L426.01,179.55 L426.99,179.70 L428.09,180.02 L429.32,180.53 L430.70,180.74 L432.24,181.27 L434.11,181.50 L436.37,181.88 L438.87,181.99 L441.45,182.27 L443.97,182.58 L446.27,183.09 L448.19,183.27 L449.59,183.24" fill="none" stroke="#f7b500" stroke-width="1.5" stroke-linejoin="round" clip-path="url(#c12)"/>
<path d="M469.8,49.50 H480.3" stroke="#2d7d2d" stroke-width="1.5"/>
<text x="484.20" y="52.60" font-size="8.6" text-anchor="start" font-weight="normal" fill="#222" >H3K4me3</text>
<path d="M469.8,59.45 H480.3" stroke="#3a86e0" stroke-width="1.5"/>
<text x="484.20" y="62.55" font-size="8.6" text-anchor="start" font-weight="normal" fill="#222" >H3K9me3</text>
<path d="M469.8,69.40 H480.3" stroke="#5544a8" stroke-width="1.5"/>
<text x="484.20" y="72.50" font-size="8.6" text-anchor="start" font-weight="normal" fill="#222" >H3K27me3</text>
<path d="M469.8,79.35 H480.3" stroke="#8fd860" stroke-width="1.5"/>
<text x="484.20" y="82.45" font-size="8.6" text-anchor="start" font-weight="normal" fill="#222" >MNase</text>
<path d="M469.8,148.90 H480.3" stroke="#f08a3a" stroke-width="1.5"/>
<text x="484.20" y="152.00" font-size="8.6" text-anchor="start" font-weight="normal" fill="#222" >H3K4me3</text>
<path d="M469.8,158.85 H480.3" stroke="#f0946a" stroke-width="1.5"/>
<text x="484.20" y="161.95" font-size="8.6" text-anchor="start" font-weight="normal" fill="#222" >H3K9me3</text>
<path d="M469.8,168.80 H480.3" stroke="#d0307a" stroke-width="1.5"/>
<text x="484.20" y="171.90" font-size="8.6" text-anchor="start" font-weight="normal" fill="#222" >H3K27me3</text>
<path d="M469.8,178.75 H480.3" stroke="#f7b500" stroke-width="1.5"/>
<text x="484.20" y="181.85" font-size="8.6" text-anchor="start" font-weight="normal" fill="#222" >MNase</text>
<text x="6.20" y="249.70" font-size="12" text-anchor="start" font-weight="bold" fill="#111" >B</text>
<path d="M41.7,270.3 H160.8 V380.4 H41.7 Z" fill="none" stroke="#222" stroke-width="1.3"/>
<path d="M38.7,374.80 H41.7" stroke="#222" stroke-width="1"/>
<text x="37.30" y="378.10" font-size="8.6" text-anchor="end" font-weight="normal" fill="#222" >0</text>
<path d="M38.7,360.31 H41.7" stroke="#222" stroke-width="1"/>
<text x="37.30" y="363.61" font-size="8.6" text-anchor="end" font-weight="normal" fill="#222" >5</text>
<path d="M38.7,345.83 H41.7" stroke="#222" stroke-width="1"/>
<text x="37.30" y="349.13" font-size="8.6" text-anchor="end" font-weight="normal" fill="#222" >10</text>
<path d="M38.7,331.34 H41.7" stroke="#222" stroke-width="1"/>
<text x="37.30" y="334.64" font-size="8.6" text-anchor="end" font-weight="normal" fill="#222" >15</text>
<path d="M38.7,316.86 H41.7" stroke="#222" stroke-width="1"/>
<text x="37.30" y="320.16" font-size="8.6" text-anchor="end" font-weight="normal" fill="#222" >20</text>
<path d="M38.7,302.37 H41.7" stroke="#222" stroke-width="1"/>
<text x="37.30" y="305.67" font-size="8.6" text-anchor="end" font-weight="normal" fill="#222" >25</text>
<path d="M38.7,287.89 H41.7" stroke="#222" stroke-width="1"/>
<text x="37.30" y="291.19" font-size="8.6" text-anchor="end" font-weight="normal" fill="#222" >30</text>
<path d="M38.7,273.40 H41.7" stroke="#222" stroke-width="1"/>
<text x="37.30" y="276.70" font-size="8.6" text-anchor="end" font-weight="normal" fill="#222" >35</text>
<text transform="translate(18.0,327.4) rotate(-90)" font-size="8" text-anchor="middle" fill="#222" textLength="105" lengthAdjust="spacingAndGlyphs">Histone H1 levels at TSS</text>
<text x="69.30" y="262.80" font-size="8.5" text-anchor="middle" font-weight="normal" fill="#222" >H1c</text>
<text x="132.00" y="263.80" font-size="8.5" text-anchor="middle" font-weight="normal" fill="#222" >H1d</text>
<path d="M53.60,296.50 V322.90 M53.60,341.00 V361.40" stroke="#a0dcff" stroke-width="1.4"/>
<path d="M53.60,296.50 V322.90" stroke="#505050" stroke-width="1.4" stroke-dasharray="10.2,2.2"/>
<path d="M53.60,361.40 V341.00" stroke="#505050" stroke-width="1.4" stroke-dasharray="10.2,2.2"/>
<path d="M52.20,296.50 H55.00 M52.20,361.40 H55.00" stroke="#222" stroke-width="1.5"/>
<rect x="49.10" y="322.90" width="9.00" height="18.10" fill="#3ab4f0" stroke="#1a1a1a" stroke-width="1.3"/>
<path d="M49.10,332.40 H58.10" stroke="#1a1a1a" stroke-width="1.3"/>
<path d="M70.30,305.00 V327.80 M70.30,344.20 V363.10" stroke="#b0d0ff" stroke-width="1.4"/>
<path d="M70.30,305.00 V327.80" stroke="#505050" stroke-width="1.4" stroke-dasharray="10.2,2.2"/>
<path d="M70.30,363.10 V344.20" stroke="#505050" stroke-width="1.4" stroke-dasharray="10.2,2.2"/>
<path d="M68.90,305.00 H71.70 M68.90,363.10 H71.70" stroke="#222" stroke-width="1.5"/>
<rect x="65.80" y="327.80" width="9.00" height="16.40" fill="#3a88ea" stroke="#1a1a1a" stroke-width="1.3"/>
<path d="M65.80,335.80 H74.80" stroke="#1a1a1a" stroke-width="1.3"/>
<path d="M87.10,305.70 V328.00 M87.10,344.20 V362.00" stroke="#b8b8ff" stroke-width="1.4"/>
<path d="M87.10,305.70 V328.00" stroke="#505050" stroke-width="1.4" stroke-dasharray="10.2,2.2"/>
<path d="M87.10,362.00 V344.20" stroke="#505050" stroke-width="1.4" stroke-dasharray="10.2,2.2"/>
<path d="M85.70,305.70 H88.50 M85.70,362.00 H88.50" stroke="#222" stroke-width="1.5"/>
<rect x="82.60" y="328.00" width="9.00" height="16.20" fill="#3535e6" stroke="#1a1a1a" stroke-width="1.3"/>
<path d="M82.60,336.20 H91.60" stroke="#1a1a1a" stroke-width="1.3"/>
<path d="M117.50,298.60 V319.50 M117.50,334.50 V355.50" stroke="#a0dcff" stroke-width="1.4"/>
<path d="M117.50,298.60 V319.50" stroke="#505050" stroke-width="1.4" stroke-dasharray="10.2,2.2"/>
<path d="M117.50,355.50 V334.50" stroke="#505050" stroke-width="1.4" stroke-dasharray="10.2,2.2"/>
<path d="M116.10,298.60 H118.90 M116.10,355.50 H118.90" stroke="#222" stroke-width="1.5"/>
<rect x="113.00" y="319.50" width="9.00" height="15.00" fill="#3ab4f0" stroke="#1a1a1a" stroke-width="1.3"/>
<path d="M113.00,327.50 H122.00" stroke="#1a1a1a" stroke-width="1.3"/>
<path d="M131.70,306.40 V324.00 M131.70,336.80 V353.60" stroke="#b0d0ff" stroke-width="1.4"/>
<path d="M131.70,306.40 V324.00" stroke="#505050" stroke-width="1.4" stroke-dasharray="10.2,2.2"/>
<path d="M131.70,353.60 V336.80" stroke="#505050" stroke-width="1.4" stroke-dasharray="10.2,2.2"/>
<path d="M130.30,306.40 H133.10 M130.30,353.60 H133.10" stroke="#222" stroke-width="1.5"/>
<rect x="127.20" y="324.00" width="9.00" height="12.80" fill="#3a88ea" stroke="#1a1a1a" stroke-width="1.3"/>
<path d="M127.20,330.50 H136.20" stroke="#1a1a1a" stroke-width="1.3"/>
<path d="M146.80,306.40 V324.80 M146.80,336.60 V352.50" stroke="#b8b8ff" stroke-width="1.4"/>
<path d="M146.80,306.40 V324.80" stroke="#505050" stroke-width="1.4" stroke-dasharray="10.2,2.2"/>
<path d="M146.80,352.50 V336.60" stroke="#505050" stroke-width="1.4" stroke-dasharray="10.2,2.2"/>
<path d="M145.40,306.40 H148.20 M145.40,352.50 H148.20" stroke="#222" stroke-width="1.5"/>
<rect x="142.55" y="324.80" width="8.50" height="11.80" fill="#3535e6" stroke="#1a1a1a" stroke-width="1.3"/>
<path d="M142.55,331.00 H151.05" stroke="#1a1a1a" stroke-width="1.3"/>
<path d="M54.2,380.4 V383.9" stroke="#222" stroke-width="1"/>
<path d="M70.1,380.4 V383.9" stroke="#222" stroke-width="1"/>
<path d="M85.7,380.4 V383.9" stroke="#222" stroke-width="1"/>
<path d="M117.5,380.4 V383.9" stroke="#222" stroke-width="1"/>
<path d="M132.9,380.4 V383.9" stroke="#222" stroke-width="1"/>
<path d="M148.7,380.4 V383.9" stroke="#222" stroke-width="1"/>
<text transform="translate(57.30,391.6) rotate(-45)" font-size="8.4" text-anchor="end" fill="#222">slow</text>
<text transform="translate(120.60,391.6) rotate(-45)" font-size="8.4" text-anchor="end" fill="#222">slow</text>
<text transform="translate(73.20,391.6) rotate(-45)" font-size="8.4" text-anchor="end" fill="#222">medium</text>
<text transform="translate(136.00,391.6) rotate(-45)" font-size="8.4" text-anchor="end" fill="#222">medium</text>
<text transform="translate(88.80,391.6) rotate(-45)" font-size="8.4" text-anchor="end" fill="#222">fast</text>
<text transform="translate(151.80,391.6) rotate(-45)" font-size="8.4" text-anchor="end" fill="#222">fast</text>
<path d="M53.9,280.4 V278.9 H86.4 V280.4" fill="none" stroke="#222" stroke-width="1.3"/>
<text x="57.5" y="277.29999999999995" font-size="6.2" fill="#333">2.27x10<tspan font-size="4.5" dy="-2.3">-17</tspan></text>
<path d="M53.9,291.8 V290.3 H70.9 V291.8" fill="none" stroke="#222" stroke-width="1.3"/>
<text x="50.5" y="288.7" font-size="6.2" fill="#333">2.2x10<tspan font-size="4.5" dy="-2.3">-16</tspan></text>
<path d="M116.1,280.5 V279.0 H149.5 V280.5" fill="none" stroke="#222" stroke-width="1.3"/>
<text x="120.0" y="277.4" font-size="6.2" fill="#333">1.22x10<tspan font-size="4.5" dy="-2.3">-11</tspan></text>
<path d="M116.1,291.8 V290.3 H133.9 V291.8" fill="none" stroke="#222" stroke-width="1.3"/>
<text x="113.0" y="288.7" font-size="6.2" fill="#333">2.35x10<tspan font-size="4.5" dy="-2.3">-12</tspan></text>
<text x="174.30" y="249.30" font-size="12" text-anchor="start" font-weight="bold" fill="#111" >C</text>
<path d="M240.8,270.0 H348.4 V380.8 H240.8 Z" fill="none" stroke="#222" stroke-width="1.3"/>
<path d="M237.8,274.60 H240.8" stroke="#222" stroke-width="1"/>
<text x="235.60" y="277.60" font-size="8.2" text-anchor="end" font-weight="normal" fill="#222" >4</text>
<path d="M237.8,300.10 H240.8" stroke="#222" stroke-width="1"/>
<text x="235.60" y="303.10" font-size="8.2" text-anchor="end" font-weight="normal" fill="#222" >2</text>
<path d="M237.8,325.60 H240.8" stroke="#222" stroke-width="1"/>
<text x="235.60" y="328.60" font-size="8.2" text-anchor="end" font-weight="normal" fill="#222" >0</text>
<path d="M237.8,351.10 H240.8" stroke="#222" stroke-width="1"/>
<text x="235.60" y="354.10" font-size="8.2" text-anchor="end" font-weight="normal" fill="#222" >-2</text>
<path d="M237.8,376.60 H240.8" stroke="#222" stroke-width="1"/>
<text x="235.60" y="379.60" font-size="8.2" text-anchor="end" font-weight="normal" fill="#222" >-4</text>
<text x="293.20" y="254.40" font-size="8.5" text-anchor="middle" font-weight="normal" fill="#222" >H1c content</text>
<path d="M252.3,265.5 L335.4,257.3 V265.5 Z" fill="none" stroke="#111" stroke-width="1.2" stroke-linejoin="miter"/>
<path d="M223.1,276 V374.5" stroke="#111" stroke-width="1.6"/>
<path d="M223.1,271.8 L220.8,276.8 H225.4 Z M223.1,378.6 L220.8,373.6 H225.4 Z" fill="#111"/>
<circle cx="223.1" cy="325.3" r="2.1" fill="#e02020"/>
<text transform="translate(189.5,325.8) rotate(-90)" font-size="8.8" style="stroke-width:0.05px" text-anchor="middle" fill="#222" textLength="60" lengthAdjust="spacingAndGlyphs">Log2 MeChRIP</text>
<text transform="translate(198.9,325.8) rotate(-90)" font-size="8.8" style="stroke-width:0.05px" text-anchor="middle" fill="#222" textLength="57" lengthAdjust="spacingAndGlyphs">(H1-TKO/WT)</text>
<text transform="translate(210.6,300.8) rotate(-90)" font-size="7.6" text-anchor="middle" fill="#333">more</text>
<text transform="translate(218.4,300.8) rotate(-90)" font-size="7.6" text-anchor="middle" fill="#333" textLength="35" lengthAdjust="spacingAndGlyphs">m6A in KO</text>
<text transform="translate(210.6,351.3) rotate(-90)" font-size="7.6" text-anchor="middle" fill="#333">less</text>
<text transform="translate(218.4,351.3) rotate(-90)" font-size="7.6" text-anchor="middle" fill="#333" textLength="35" lengthAdjust="spacingAndGlyphs">m6A in KO</text>
<path d="M256.90,310.50 V325.90" stroke="#303030" stroke-width="1.4" stroke-dasharray="4,2.3"/>
<path d="M256.90,356.60 V338.30" stroke="#303030" stroke-width="1.4" stroke-dasharray="4,2.3"/>
<path d="M255.20,310.50 H258.60 M255.20,356.60 H258.60" stroke="#222" stroke-width="1.5"/>
<rect x="249.40" y="325.90" width="15.00" height="12.40" fill="#45b0ea" stroke="#1a1a1a" stroke-width="1.3"/>
<path d="M249.40,331.40 H264.40" stroke="#1a1a1a" stroke-width="1.3"/>
<path d="M281.90,307.50 V324.50" stroke="#303030" stroke-width="1.4" stroke-dasharray="4,2.3"/>
<path d="M281.90,351.80 V336.70" stroke="#303030" stroke-width="1.4" stroke-dasharray="4,2.3"/>
<path d="M280.20,307.50 H283.60 M280.20,351.80 H283.60" stroke="#222" stroke-width="1.5"/>
<rect x="274.40" y="324.50" width="15.00" height="12.20" fill="#45b0ea" stroke="#1a1a1a" stroke-width="1.3"/>
<path d="M274.40,330.30 H289.40" stroke="#1a1a1a" stroke-width="1.3"/>
<path d="M307.30,303.20 V323.70" stroke="#303030" stroke-width="1.4" stroke-dasharray="4,2.3"/>
<path d="M307.30,358.40 V338.40" stroke="#303030" stroke-width="1.4" stroke-dasharray="4,2.3"/>
<path d="M305.60,303.20 H309.00 M305.60,358.40 H309.00" stroke="#222" stroke-width="1.5"/>
<rect x="299.30" y="323.70" width="16.00" height="14.70" fill="#45b0ea" stroke="#1a1a1a" stroke-width="1.3"/>
<path d="M299.30,329.50 H315.30" stroke="#1a1a1a" stroke-width="1.3"/>
<path d="M331.90,301.80 V322.40" stroke="#303030" stroke-width="1.4" stroke-dasharray="4,2.3"/>
<path d="M331.90,359.20 V337.40" stroke="#303030" stroke-width="1.4" stroke-dasharray="4,2.3"/>
<path d="M330.20,301.80 H333.60 M330.20,359.20 H333.60" stroke="#222" stroke-width="1.5"/>
<rect x="324.15" y="322.40" width="15.50" height="15.00" fill="#45b0ea" stroke="#1a1a1a" stroke-width="1.3"/>
<path d="M324.15,329.00 H339.65" stroke="#1a1a1a" stroke-width="1.3"/>
<path d="M240.8,325.9 H348.4" stroke="#e04848" stroke-width="1.2"/>
<text transform="translate(259.40,305.1) rotate(-90)" font-size="6.7" text-anchor="start" fill="#333" style="stroke-width:0.12px">5.46x10<tspan font-size="4.4" dy="-2.6">-13</tspan></text>
<text transform="translate(285.30,303.4) rotate(-90)" font-size="6.7" text-anchor="start" fill="#333" style="stroke-width:0.12px">1.79x10<tspan font-size="4.4" dy="-2.6">-10</tspan></text>
<text transform="translate(310.90,300.8) rotate(-90)" font-size="6.7" text-anchor="start" fill="#333" style="stroke-width:0.12px">4.28x10<tspan font-size="4.4" dy="-2.6">-9</tspan></text>
<text transform="translate(335.40,299.1) rotate(-90)" font-size="6.7" text-anchor="start" fill="#333" style="stroke-width:0.12px">7.41x10<tspan font-size="4.4" dy="-2.6">-9</tspan></text>
<path d="M257,380.8 V383.8" stroke="#222" stroke-width="1"/>
<text x="257.00" y="393.00" font-size="8.4" text-anchor="middle" font-weight="normal" fill="#222" >Q1</text>
<path d="M282,380.8 V383.8" stroke="#222" stroke-width="1"/>
<text x="282.00" y="393.00" font-size="8.4" text-anchor="middle" font-weight="normal" fill="#222" >Q2</text>
<path d="M307,380.8 V383.8" stroke="#222" stroke-width="1"/>
<text x="307.00" y="393.00" font-size="8.4" text-anchor="middle" font-weight="normal" fill="#222" >Q3</text>
<path d="M332,380.8 V383.8" stroke="#222" stroke-width="1"/>
<text x="332.00" y="393.00" font-size="8.4" text-anchor="middle" font-weight="normal" fill="#222" >Q4</text>
<text x="357.80" y="249.00" font-size="12" text-anchor="start" font-weight="bold" fill="#111" >D</text>
<path d="M398.4,270.3 H517.7 V380.4 H398.4 Z" fill="none" stroke="#222" stroke-width="1.3"/>
<path d="M395.4,375.00 H398.4" stroke="#222" stroke-width="1"/>
<text x="393.00" y="378.00" font-size="8.6" text-anchor="end" font-weight="normal" fill="#222" >0</text>
<path d="M395.4,354.84 H398.4" stroke="#222" stroke-width="1"/>
<text x="393.00" y="357.84" font-size="8.6" text-anchor="end" font-weight="normal" fill="#222" >20</text>
<path d="M395.4,334.68 H398.4" stroke="#222" stroke-width="1"/>
<text x="393.00" y="337.68" font-size="8.6" text-anchor="end" font-weight="normal" fill="#222" >40</text>
<path d="M395.4,314.52 H398.4" stroke="#222" stroke-width="1"/>
<text x="393.00" y="317.52" font-size="8.6" text-anchor="end" font-weight="normal" fill="#222" >60</text>
<path d="M395.4,294.36 H398.4" stroke="#222" stroke-width="1"/>
<text x="393.00" y="297.36" font-size="8.6" text-anchor="end" font-weight="normal" fill="#222" >80</text>
<path d="M395.4,274.20 H398.4" stroke="#222" stroke-width="1"/>
<text x="393.00" y="277.20" font-size="8.6" text-anchor="end" font-weight="normal" fill="#222" >100</text>
<text transform="translate(373,326) rotate(-90)" font-size="8.4" text-anchor="middle" fill="#222" textLength="64" lengthAdjust="spacingAndGlyphs">% of m6A peaks</text>
<text x="429.60" y="264.00" font-size="8.4" text-anchor="middle" font-weight="normal" fill="#222" >WT</text>
<text x="485.60" y="264.00" font-size="8.4" text-anchor="middle" font-weight="normal" fill="#222" >TKO</text>
<rect x="409.70" y="274.7" width="8.20" height="101.80" fill="#fff" stroke="#45b8f5" stroke-width="1.2"/>
<rect x="409.10" y="339.80" width="9.40" height="37.00" fill="#45b8f5"/>
<rect x="426.80" y="274.7" width="7.80" height="101.80" fill="#fff" stroke="#4a8cf5" stroke-width="1.2"/>
<rect x="426.20" y="343.20" width="9.00" height="33.60" fill="#4a8cf5"/>
<rect x="443.20" y="274.7" width="8.20" height="101.80" fill="#fff" stroke="#3838f5" stroke-width="1.2"/>
<rect x="442.60" y="347.90" width="9.40" height="28.90" fill="#3838f5"/>
<rect x="465.00" y="274.7" width="8.50" height="101.80" fill="#fff" stroke="#ff6a6a" stroke-width="1.2"/>
<rect x="464.40" y="338.50" width="9.70" height="38.30" fill="#ff6a6a"/>
<rect x="482.10" y="274.7" width="8.20" height="101.80" fill="#fff" stroke="#ff7a1a" stroke-width="1.2"/>
<rect x="481.50" y="339.50" width="9.40" height="37.30" fill="#ff7a1a"/>
<rect x="498.90" y="274.7" width="7.80" height="101.80" fill="#fff" stroke="#ff1010" stroke-width="1.2"/>
<rect x="498.30" y="342.50" width="9.00" height="34.30" fill="#ff1010"/>
<path d="M414,380.4 V383.9" stroke="#222" stroke-width="1"/>
<text transform="translate(417.10,391.6) rotate(-45)" font-size="8.4" text-anchor="end" fill="#222">slow</text>
<path d="M430.4,380.4 V383.9" stroke="#222" stroke-width="1"/>
<text transform="translate(433.50,391.6) rotate(-45)" font-size="8.4" text-anchor="end" fill="#222">medium</text>
<path d="M446.5,380.4 V383.9" stroke="#222" stroke-width="1"/>
<text transform="translate(449.60,391.6) rotate(-45)" font-size="8.4" text-anchor="end" fill="#222">fast</text>
<path d="M469.6,380.4 V383.9" stroke="#222" stroke-width="1"/>
<text transform="translate(472.70,391.6) rotate(-45)" font-size="8.4" text-anchor="end" fill="#222">slow</text>
<path d="M485.7,380.4 V383.9" stroke="#222" stroke-width="1"/>
<text transform="translate(488.80,391.6) rotate(-45)" font-size="8.4" text-anchor="end" fill="#222">medium</text>
<path d="M502.7,380.4 V383.9" stroke="#222" stroke-width="1"/>
<text transform="translate(505.80,391.6) rotate(-45)" font-size="8.4" text-anchor="end" fill="#222">fast</text>
<rect x="523.2" y="283.9" width="5.3" height="5.1" fill="#111"/>
<rect x="523.8" y="293.6" width="4.6" height="4.8" fill="#fff" stroke="#111" stroke-width="1.1"/>
<text x="532.30" y="289.40" font-size="8.7" text-anchor="start" font-weight="normal" fill="#222" textLength="15.3" lengthAdjust="spacingAndGlyphs" >TSS</text>
<text x="532.30" y="299.10" font-size="8.7" text-anchor="start" font-weight="normal" fill="#222" textLength="15.0" lengthAdjust="spacingAndGlyphs" >TTS</text>
</svg>
</body></html>
